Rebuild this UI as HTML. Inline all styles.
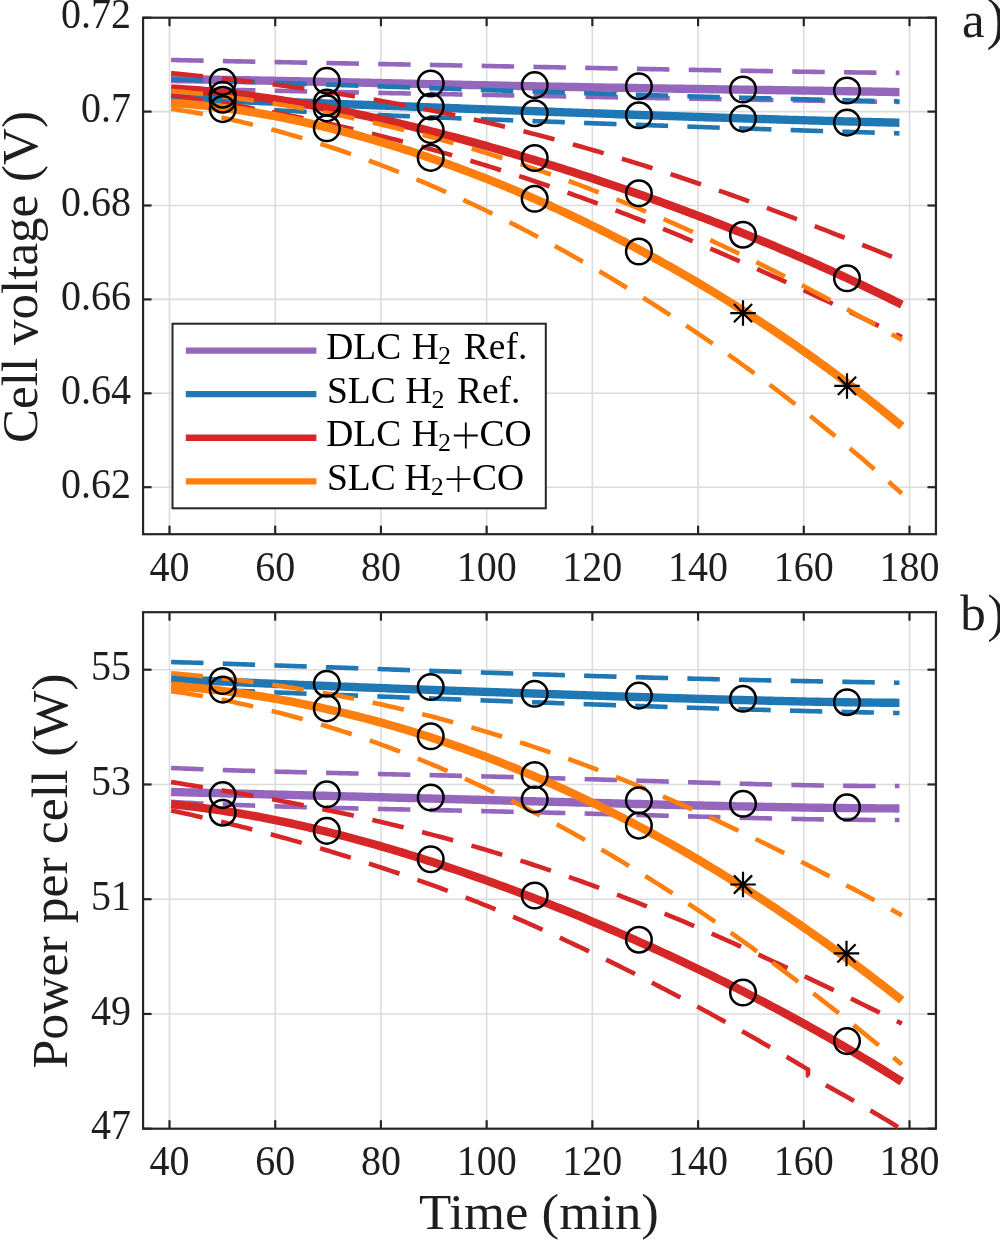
<!DOCTYPE html>
<html><head><meta charset="utf-8"><style>
html,body{margin:0;padding:0;background:#fff;}
svg{display:block;will-change:transform;}
text{font-family:"Liberation Serif",serif;fill:#1e1e1e;}
.tk{font-size:40px;}
.al{font-size:51px;}
.par{font-size:56px;}
.lg{font-size:37.5px;fill:#000;}
.sub{font-size:26px;fill:#000;}
</style></head><body>
<svg width="1000" height="1241" viewBox="0 0 1000 1241">
<rect width="1000" height="1241" fill="#fff"/>
<line x1="169.50" y1="17.7" x2="169.50" y2="534.2" stroke="#dcdcdc" stroke-width="1.6"/>
<line x1="275.21" y1="17.7" x2="275.21" y2="534.2" stroke="#dcdcdc" stroke-width="1.6"/>
<line x1="380.93" y1="17.7" x2="380.93" y2="534.2" stroke="#dcdcdc" stroke-width="1.6"/>
<line x1="486.64" y1="17.7" x2="486.64" y2="534.2" stroke="#dcdcdc" stroke-width="1.6"/>
<line x1="592.36" y1="17.7" x2="592.36" y2="534.2" stroke="#dcdcdc" stroke-width="1.6"/>
<line x1="698.07" y1="17.7" x2="698.07" y2="534.2" stroke="#dcdcdc" stroke-width="1.6"/>
<line x1="803.78" y1="17.7" x2="803.78" y2="534.2" stroke="#dcdcdc" stroke-width="1.6"/>
<line x1="909.50" y1="17.7" x2="909.50" y2="534.2" stroke="#dcdcdc" stroke-width="1.6"/>
<line x1="143.07" y1="17.70" x2="935.93" y2="17.70" stroke="#dcdcdc" stroke-width="1.6"/>
<line x1="143.07" y1="111.60" x2="935.93" y2="111.60" stroke="#dcdcdc" stroke-width="1.6"/>
<line x1="143.07" y1="205.50" x2="935.93" y2="205.50" stroke="#dcdcdc" stroke-width="1.6"/>
<line x1="143.07" y1="299.40" x2="935.93" y2="299.40" stroke="#dcdcdc" stroke-width="1.6"/>
<line x1="143.07" y1="393.30" x2="935.93" y2="393.30" stroke="#dcdcdc" stroke-width="1.6"/>
<line x1="143.07" y1="487.20" x2="935.93" y2="487.20" stroke="#dcdcdc" stroke-width="1.6"/>
<line x1="169.50" y1="612.2" x2="169.50" y2="1128.7" stroke="#dcdcdc" stroke-width="1.6"/>
<line x1="275.21" y1="612.2" x2="275.21" y2="1128.7" stroke="#dcdcdc" stroke-width="1.6"/>
<line x1="380.93" y1="612.2" x2="380.93" y2="1128.7" stroke="#dcdcdc" stroke-width="1.6"/>
<line x1="486.64" y1="612.2" x2="486.64" y2="1128.7" stroke="#dcdcdc" stroke-width="1.6"/>
<line x1="592.36" y1="612.2" x2="592.36" y2="1128.7" stroke="#dcdcdc" stroke-width="1.6"/>
<line x1="698.07" y1="612.2" x2="698.07" y2="1128.7" stroke="#dcdcdc" stroke-width="1.6"/>
<line x1="803.78" y1="612.2" x2="803.78" y2="1128.7" stroke="#dcdcdc" stroke-width="1.6"/>
<line x1="909.50" y1="612.2" x2="909.50" y2="1128.7" stroke="#dcdcdc" stroke-width="1.6"/>
<line x1="143.07" y1="669.70" x2="935.93" y2="669.70" stroke="#dcdcdc" stroke-width="1.6"/>
<line x1="143.07" y1="784.45" x2="935.93" y2="784.45" stroke="#dcdcdc" stroke-width="1.6"/>
<line x1="143.07" y1="899.20" x2="935.93" y2="899.20" stroke="#dcdcdc" stroke-width="1.6"/>
<line x1="143.07" y1="1013.95" x2="935.93" y2="1013.95" stroke="#dcdcdc" stroke-width="1.6"/>
<line x1="143.07" y1="1128.70" x2="935.93" y2="1128.70" stroke="#dcdcdc" stroke-width="1.6"/>
<rect x="143.07" y="17.70" width="792.86" height="516.50" fill="none" stroke="#262626" stroke-width="2.2"/>
<line x1="169.50" y1="534.2" x2="169.50" y2="525.7" stroke="#262626" stroke-width="2.2"/>
<line x1="169.50" y1="17.7" x2="169.50" y2="26.2" stroke="#262626" stroke-width="2.2"/>
<text transform="translate(169.50,580.50) scale(1,1.045)" class="tk" text-anchor="middle">40</text>
<line x1="275.21" y1="534.2" x2="275.21" y2="525.7" stroke="#262626" stroke-width="2.2"/>
<line x1="275.21" y1="17.7" x2="275.21" y2="26.2" stroke="#262626" stroke-width="2.2"/>
<text transform="translate(275.21,580.50) scale(1,1.045)" class="tk" text-anchor="middle">60</text>
<line x1="380.93" y1="534.2" x2="380.93" y2="525.7" stroke="#262626" stroke-width="2.2"/>
<line x1="380.93" y1="17.7" x2="380.93" y2="26.2" stroke="#262626" stroke-width="2.2"/>
<text transform="translate(380.93,580.50) scale(1,1.045)" class="tk" text-anchor="middle">80</text>
<line x1="486.64" y1="534.2" x2="486.64" y2="525.7" stroke="#262626" stroke-width="2.2"/>
<line x1="486.64" y1="17.7" x2="486.64" y2="26.2" stroke="#262626" stroke-width="2.2"/>
<text transform="translate(486.64,580.50) scale(1,1.045)" class="tk" text-anchor="middle">100</text>
<line x1="592.36" y1="534.2" x2="592.36" y2="525.7" stroke="#262626" stroke-width="2.2"/>
<line x1="592.36" y1="17.7" x2="592.36" y2="26.2" stroke="#262626" stroke-width="2.2"/>
<text transform="translate(592.36,580.50) scale(1,1.045)" class="tk" text-anchor="middle">120</text>
<line x1="698.07" y1="534.2" x2="698.07" y2="525.7" stroke="#262626" stroke-width="2.2"/>
<line x1="698.07" y1="17.7" x2="698.07" y2="26.2" stroke="#262626" stroke-width="2.2"/>
<text transform="translate(698.07,580.50) scale(1,1.045)" class="tk" text-anchor="middle">140</text>
<line x1="803.78" y1="534.2" x2="803.78" y2="525.7" stroke="#262626" stroke-width="2.2"/>
<line x1="803.78" y1="17.7" x2="803.78" y2="26.2" stroke="#262626" stroke-width="2.2"/>
<text transform="translate(803.78,580.50) scale(1,1.045)" class="tk" text-anchor="middle">160</text>
<line x1="909.50" y1="534.2" x2="909.50" y2="525.7" stroke="#262626" stroke-width="2.2"/>
<line x1="909.50" y1="17.7" x2="909.50" y2="26.2" stroke="#262626" stroke-width="2.2"/>
<text transform="translate(909.50,580.50) scale(1,1.045)" class="tk" text-anchor="middle">180</text>
<line x1="143.07" y1="17.70" x2="151.57" y2="17.70" stroke="#262626" stroke-width="2.2"/>
<line x1="935.93" y1="17.70" x2="927.43" y2="17.70" stroke="#262626" stroke-width="2.2"/>
<text transform="translate(131.0,28.30) scale(1,1.045)" class="tk" text-anchor="end">0.72</text>
<line x1="143.07" y1="111.60" x2="151.57" y2="111.60" stroke="#262626" stroke-width="2.2"/>
<line x1="935.93" y1="111.60" x2="927.43" y2="111.60" stroke="#262626" stroke-width="2.2"/>
<text transform="translate(131.0,122.20) scale(1,1.045)" class="tk" text-anchor="end">0.7</text>
<line x1="143.07" y1="205.50" x2="151.57" y2="205.50" stroke="#262626" stroke-width="2.2"/>
<line x1="935.93" y1="205.50" x2="927.43" y2="205.50" stroke="#262626" stroke-width="2.2"/>
<text transform="translate(131.0,216.10) scale(1,1.045)" class="tk" text-anchor="end">0.68</text>
<line x1="143.07" y1="299.40" x2="151.57" y2="299.40" stroke="#262626" stroke-width="2.2"/>
<line x1="935.93" y1="299.40" x2="927.43" y2="299.40" stroke="#262626" stroke-width="2.2"/>
<text transform="translate(131.0,310.00) scale(1,1.045)" class="tk" text-anchor="end">0.66</text>
<line x1="143.07" y1="393.30" x2="151.57" y2="393.30" stroke="#262626" stroke-width="2.2"/>
<line x1="935.93" y1="393.30" x2="927.43" y2="393.30" stroke="#262626" stroke-width="2.2"/>
<text transform="translate(131.0,403.90) scale(1,1.045)" class="tk" text-anchor="end">0.64</text>
<line x1="143.07" y1="487.20" x2="151.57" y2="487.20" stroke="#262626" stroke-width="2.2"/>
<line x1="935.93" y1="487.20" x2="927.43" y2="487.20" stroke="#262626" stroke-width="2.2"/>
<text transform="translate(131.0,497.80) scale(1,1.045)" class="tk" text-anchor="end">0.62</text>
<rect x="143.07" y="612.20" width="792.86" height="516.50" fill="none" stroke="#262626" stroke-width="2.2"/>
<line x1="169.50" y1="1128.7" x2="169.50" y2="1120.2" stroke="#262626" stroke-width="2.2"/>
<line x1="169.50" y1="612.2" x2="169.50" y2="620.7" stroke="#262626" stroke-width="2.2"/>
<text transform="translate(169.50,1175.00) scale(1,1.045)" class="tk" text-anchor="middle">40</text>
<line x1="275.21" y1="1128.7" x2="275.21" y2="1120.2" stroke="#262626" stroke-width="2.2"/>
<line x1="275.21" y1="612.2" x2="275.21" y2="620.7" stroke="#262626" stroke-width="2.2"/>
<text transform="translate(275.21,1175.00) scale(1,1.045)" class="tk" text-anchor="middle">60</text>
<line x1="380.93" y1="1128.7" x2="380.93" y2="1120.2" stroke="#262626" stroke-width="2.2"/>
<line x1="380.93" y1="612.2" x2="380.93" y2="620.7" stroke="#262626" stroke-width="2.2"/>
<text transform="translate(380.93,1175.00) scale(1,1.045)" class="tk" text-anchor="middle">80</text>
<line x1="486.64" y1="1128.7" x2="486.64" y2="1120.2" stroke="#262626" stroke-width="2.2"/>
<line x1="486.64" y1="612.2" x2="486.64" y2="620.7" stroke="#262626" stroke-width="2.2"/>
<text transform="translate(486.64,1175.00) scale(1,1.045)" class="tk" text-anchor="middle">100</text>
<line x1="592.36" y1="1128.7" x2="592.36" y2="1120.2" stroke="#262626" stroke-width="2.2"/>
<line x1="592.36" y1="612.2" x2="592.36" y2="620.7" stroke="#262626" stroke-width="2.2"/>
<text transform="translate(592.36,1175.00) scale(1,1.045)" class="tk" text-anchor="middle">120</text>
<line x1="698.07" y1="1128.7" x2="698.07" y2="1120.2" stroke="#262626" stroke-width="2.2"/>
<line x1="698.07" y1="612.2" x2="698.07" y2="620.7" stroke="#262626" stroke-width="2.2"/>
<text transform="translate(698.07,1175.00) scale(1,1.045)" class="tk" text-anchor="middle">140</text>
<line x1="803.78" y1="1128.7" x2="803.78" y2="1120.2" stroke="#262626" stroke-width="2.2"/>
<line x1="803.78" y1="612.2" x2="803.78" y2="620.7" stroke="#262626" stroke-width="2.2"/>
<text transform="translate(803.78,1175.00) scale(1,1.045)" class="tk" text-anchor="middle">160</text>
<line x1="909.50" y1="1128.7" x2="909.50" y2="1120.2" stroke="#262626" stroke-width="2.2"/>
<line x1="909.50" y1="612.2" x2="909.50" y2="620.7" stroke="#262626" stroke-width="2.2"/>
<text transform="translate(909.50,1175.00) scale(1,1.045)" class="tk" text-anchor="middle">180</text>
<line x1="143.07" y1="669.70" x2="151.57" y2="669.70" stroke="#262626" stroke-width="2.2"/>
<line x1="935.93" y1="669.70" x2="927.43" y2="669.70" stroke="#262626" stroke-width="2.2"/>
<text transform="translate(131.0,680.30) scale(1,1.045)" class="tk" text-anchor="end">55</text>
<line x1="143.07" y1="784.45" x2="151.57" y2="784.45" stroke="#262626" stroke-width="2.2"/>
<line x1="935.93" y1="784.45" x2="927.43" y2="784.45" stroke="#262626" stroke-width="2.2"/>
<text transform="translate(131.0,795.05) scale(1,1.045)" class="tk" text-anchor="end">53</text>
<line x1="143.07" y1="899.20" x2="151.57" y2="899.20" stroke="#262626" stroke-width="2.2"/>
<line x1="935.93" y1="899.20" x2="927.43" y2="899.20" stroke="#262626" stroke-width="2.2"/>
<text transform="translate(131.0,909.80) scale(1,1.045)" class="tk" text-anchor="end">51</text>
<line x1="143.07" y1="1013.95" x2="151.57" y2="1013.95" stroke="#262626" stroke-width="2.2"/>
<line x1="935.93" y1="1013.95" x2="927.43" y2="1013.95" stroke="#262626" stroke-width="2.2"/>
<text transform="translate(131.0,1024.55) scale(1,1.045)" class="tk" text-anchor="end">49</text>
<line x1="143.07" y1="1128.70" x2="151.57" y2="1128.70" stroke="#262626" stroke-width="2.2"/>
<line x1="935.93" y1="1128.70" x2="927.43" y2="1128.70" stroke="#262626" stroke-width="2.2"/>
<text transform="translate(131.0,1139.30) scale(1,1.045)" class="tk" text-anchor="end">47</text>
<clipPath id="top"><rect x="143.07" y="17.70" width="792.86" height="516.50"/></clipPath>
<g>
<path d="M171.09,79.10 L174.75,79.15 L178.41,79.19 L182.07,79.24 L185.73,79.29 L189.39,79.34 L193.05,79.39 L196.71,79.45 L200.37,79.50 L204.03,79.56 L207.69,79.61 L211.35,79.67 L215.01,79.73 L218.67,79.79 L222.33,79.85 L225.99,79.91 L229.65,79.98 L233.31,80.04 L236.97,80.10 L240.63,80.17 L244.29,80.24 L247.95,80.30 L251.61,80.37 L255.27,80.44 L258.93,80.51 L262.59,80.58 L266.25,80.65 L269.91,80.72 L273.57,80.79 L277.23,80.87 L280.89,80.94 L284.55,81.01 L288.21,81.09 L291.87,81.16 L295.53,81.24 L299.19,81.31 L302.85,81.39 L306.51,81.46 L310.17,81.54 L313.83,81.62 L317.49,81.70 L321.15,81.77 L324.81,81.85 L328.47,81.93 L332.13,82.01 L335.79,82.09 L339.45,82.17 L343.11,82.24 L346.77,82.32 L350.43,82.40 L354.09,82.48 L357.75,82.56 L361.41,82.64 L365.07,82.72 L368.73,82.80 L372.39,82.88 L376.05,82.96 L379.71,83.04 L383.37,83.12 L387.03,83.20 L390.69,83.28 L394.35,83.36 L398.01,83.44 L401.68,83.52 L405.34,83.60 L409.00,83.68 L412.66,83.76 L416.32,83.84 L419.98,83.92 L423.64,84.00 L427.30,84.08 L430.96,84.16 L434.62,84.24 L438.28,84.32 L441.94,84.40 L445.60,84.47 L449.26,84.55 L452.92,84.63 L456.58,84.71 L460.24,84.78 L463.90,84.86 L467.56,84.94 L471.22,85.01 L474.88,85.09 L478.54,85.16 L482.20,85.24 L485.86,85.31 L489.52,85.39 L493.18,85.46 L496.84,85.54 L500.50,85.61 L504.16,85.68 L507.82,85.76 L511.48,85.83 L515.14,85.90 L518.80,85.97 L522.46,86.04 L526.12,86.12 L529.78,86.19 L533.44,86.26 L537.10,86.33 L540.76,86.40 L544.42,86.46 L548.08,86.53 L551.74,86.60 L555.40,86.67 L559.06,86.74 L562.72,86.80 L566.38,86.87 L570.04,86.94 L573.70,87.00 L577.36,87.07 L581.02,87.13 L584.68,87.20 L588.34,87.26 L592.00,87.33 L595.66,87.39 L599.32,87.45 L602.98,87.51 L606.64,87.58 L610.30,87.64 L613.96,87.70 L617.62,87.76 L621.28,87.82 L624.94,87.88 L628.60,87.94 L632.26,88.00 L635.92,88.06 L639.58,88.12 L643.24,88.18 L646.90,88.24 L650.57,88.29 L654.23,88.35 L657.89,88.41 L661.55,88.47 L665.21,88.52 L668.87,88.58 L672.53,88.63 L676.19,88.69 L679.85,88.75 L683.51,88.80 L687.17,88.85 L690.83,88.91 L694.49,88.96 L698.15,89.02 L701.81,89.07 L705.47,89.13 L709.13,89.18 L712.79,89.23 L716.45,89.29 L720.11,89.34 L723.77,89.39 L727.43,89.44 L731.09,89.50 L734.75,89.55 L738.41,89.60 L742.07,89.65 L745.73,89.71 L749.39,89.76 L753.05,89.81 L756.71,89.86 L760.37,89.92 L764.03,89.97 L767.69,90.02 L771.35,90.07 L775.01,90.12 L778.67,90.18 L782.33,90.23 L785.99,90.28 L789.65,90.34 L793.31,90.39 L796.97,90.44 L800.63,90.49 L804.29,90.55 L807.95,90.60 L811.61,90.66 L815.27,90.71 L818.93,90.76 L822.59,90.82 L826.25,90.87 L829.91,90.93 L833.57,90.99 L837.23,91.04 L840.89,91.10 L844.55,91.16 L848.21,91.21 L851.87,91.27 L855.53,91.33 L859.19,91.39 L862.85,91.45 L866.51,91.51 L870.17,91.57 L873.83,91.63 L877.49,91.69 L881.15,91.76 L884.81,91.82 L888.47,91.89 L892.13,91.95 L895.80,92.02 L899.46,92.08" fill="none" stroke="#9467bd" stroke-width="8.4" stroke-linejoin="round"/>
<path d="M171.09,59.98 L174.75,60.06 L178.41,60.14 L182.07,60.21 L185.73,60.29 L189.39,60.37 L193.05,60.44 L196.71,60.52 L200.37,60.59 L204.03,60.67 L207.69,60.74 L211.35,60.82 L215.01,60.89 L218.67,60.96 L222.33,61.04 L225.99,61.11 L229.65,61.18 L233.31,61.25 L236.97,61.33 L240.63,61.40 L244.29,61.47 L247.95,61.54 L251.61,61.61 L255.27,61.68 L258.93,61.75 L262.59,61.82 L266.25,61.89 L269.91,61.96 L273.57,62.03 L277.23,62.10 L280.89,62.17 L284.55,62.24 L288.21,62.31 L291.87,62.38 L295.53,62.45 L299.19,62.52 L302.85,62.59 L306.51,62.66 L310.17,62.72 L313.83,62.79 L317.49,62.86 L321.15,62.93 L324.81,63.00 L328.47,63.06 L332.13,63.13 L335.79,63.20 L339.45,63.27 L343.11,63.34 L346.77,63.40 L350.43,63.47 L354.09,63.54 L357.75,63.61 L361.41,63.67 L365.07,63.74 L368.73,63.81 L372.39,63.88 L376.05,63.95 L379.71,64.01 L383.37,64.08 L387.03,64.15 L390.69,64.22 L394.35,64.28 L398.01,64.35 L401.68,64.42 L405.34,64.49 L409.00,64.55 L412.66,64.62 L416.32,64.69 L419.98,64.76 L423.64,64.83 L427.30,64.89 L430.96,64.96 L434.62,65.03 L438.28,65.10 L441.94,65.16 L445.60,65.23 L449.26,65.30 L452.92,65.37 L456.58,65.44 L460.24,65.51 L463.90,65.57 L467.56,65.64 L471.22,65.71 L474.88,65.78 L478.54,65.85 L482.20,65.92 L485.86,65.99 L489.52,66.05 L493.18,66.12 L496.84,66.19 L500.50,66.26 L504.16,66.33 L507.82,66.40 L511.48,66.47 L515.14,66.54 L518.80,66.61 L522.46,66.68 L526.12,66.74 L529.78,66.81 L533.44,66.88 L537.10,66.95 L540.76,67.02 L544.42,67.09 L548.08,67.16 L551.74,67.23 L555.40,67.30 L559.06,67.37 L562.72,67.44 L566.38,67.51 L570.04,67.58 L573.70,67.65 L577.36,67.72 L581.02,67.78 L584.68,67.85 L588.34,67.92 L592.00,67.99 L595.66,68.06 L599.32,68.13 L602.98,68.20 L606.64,68.27 L610.30,68.34 L613.96,68.41 L617.62,68.48 L621.28,68.55 L624.94,68.62 L628.60,68.68 L632.26,68.75 L635.92,68.82 L639.58,68.89 L643.24,68.96 L646.90,69.03 L650.57,69.10 L654.23,69.16 L657.89,69.23 L661.55,69.30 L665.21,69.37 L668.87,69.43 L672.53,69.50 L676.19,69.57 L679.85,69.64 L683.51,69.70 L687.17,69.77 L690.83,69.84 L694.49,69.90 L698.15,69.97 L701.81,70.03 L705.47,70.10 L709.13,70.16 L712.79,70.23 L716.45,70.29 L720.11,70.36 L723.77,70.42 L727.43,70.49 L731.09,70.55 L734.75,70.61 L738.41,70.68 L742.07,70.74 L745.73,70.80 L749.39,70.86 L753.05,70.92 L756.71,70.99 L760.37,71.05 L764.03,71.11 L767.69,71.17 L771.35,71.23 L775.01,71.28 L778.67,71.34 L782.33,71.40 L785.99,71.46 L789.65,71.51 L793.31,71.57 L796.97,71.63 L800.63,71.68 L804.29,71.74 L807.95,71.79 L811.61,71.85 L815.27,71.90 L818.93,71.95 L822.59,72.00 L826.25,72.05 L829.91,72.10 L833.57,72.15 L837.23,72.20 L840.89,72.25 L844.55,72.30 L848.21,72.35 L851.87,72.39 L855.53,72.44 L859.19,72.48 L862.85,72.53 L866.51,72.57 L870.17,72.61 L873.83,72.66 L877.49,72.70 L881.15,72.74 L884.81,72.78 L888.47,72.81 L892.13,72.85 L895.80,72.89 L899.46,72.92" fill="none" stroke="#9467bd" stroke-width="4.6" stroke-dasharray="32.501 19.271"/>
<path d="M171.09,88.51 L174.75,88.59 L178.41,88.67 L182.07,88.76 L185.73,88.84 L189.39,88.92 L193.05,89.00 L196.71,89.09 L200.37,89.17 L204.03,89.25 L207.69,89.33 L211.35,89.41 L215.01,89.49 L218.67,89.57 L222.33,89.65 L225.99,89.73 L229.65,89.81 L233.31,89.89 L236.97,89.97 L240.63,90.05 L244.29,90.13 L247.95,90.20 L251.61,90.28 L255.27,90.36 L258.93,90.44 L262.59,90.52 L266.25,90.59 L269.91,90.67 L273.57,90.75 L277.23,90.82 L280.89,90.90 L284.55,90.97 L288.21,91.05 L291.87,91.13 L295.53,91.20 L299.19,91.28 L302.85,91.35 L306.51,91.43 L310.17,91.50 L313.83,91.58 L317.49,91.65 L321.15,91.72 L324.81,91.80 L328.47,91.87 L332.13,91.95 L335.79,92.02 L339.45,92.09 L343.11,92.17 L346.77,92.24 L350.43,92.31 L354.09,92.38 L357.75,92.46 L361.41,92.53 L365.07,92.60 L368.73,92.67 L372.39,92.75 L376.05,92.82 L379.71,92.89 L383.37,92.96 L387.03,93.03 L390.69,93.10 L394.35,93.18 L398.01,93.25 L401.68,93.32 L405.34,93.39 L409.00,93.46 L412.66,93.53 L416.32,93.60 L419.98,93.67 L423.64,93.74 L427.30,93.81 L430.96,93.88 L434.62,93.95 L438.28,94.02 L441.94,94.09 L445.60,94.16 L449.26,94.23 L452.92,94.30 L456.58,94.37 L460.24,94.44 L463.90,94.51 L467.56,94.58 L471.22,94.65 L474.88,94.72 L478.54,94.79 L482.20,94.86 L485.86,94.93 L489.52,95.00 L493.18,95.07 L496.84,95.13 L500.50,95.20 L504.16,95.27 L507.82,95.34 L511.48,95.41 L515.14,95.48 L518.80,95.55 L522.46,95.61 L526.12,95.68 L529.78,95.75 L533.44,95.82 L537.10,95.89 L540.76,95.95 L544.42,96.02 L548.08,96.09 L551.74,96.16 L555.40,96.22 L559.06,96.29 L562.72,96.36 L566.38,96.43 L570.04,96.49 L573.70,96.56 L577.36,96.63 L581.02,96.69 L584.68,96.76 L588.34,96.83 L592.00,96.89 L595.66,96.96 L599.32,97.03 L602.98,97.09 L606.64,97.16 L610.30,97.23 L613.96,97.29 L617.62,97.36 L621.28,97.43 L624.94,97.49 L628.60,97.56 L632.26,97.62 L635.92,97.69 L639.58,97.75 L643.24,97.82 L646.90,97.89 L650.57,97.95 L654.23,98.02 L657.89,98.08 L661.55,98.15 L665.21,98.21 L668.87,98.28 L672.53,98.34 L676.19,98.40 L679.85,98.47 L683.51,98.53 L687.17,98.60 L690.83,98.66 L694.49,98.73 L698.15,98.79 L701.81,98.85 L705.47,98.92 L709.13,98.98 L712.79,99.04 L716.45,99.11 L720.11,99.17 L723.77,99.23 L727.43,99.29 L731.09,99.36 L734.75,99.42 L738.41,99.48 L742.07,99.54 L745.73,99.61 L749.39,99.67 L753.05,99.73 L756.71,99.79 L760.37,99.85 L764.03,99.91 L767.69,99.97 L771.35,100.03 L775.01,100.09 L778.67,100.15 L782.33,100.21 L785.99,100.27 L789.65,100.33 L793.31,100.39 L796.97,100.45 L800.63,100.51 L804.29,100.57 L807.95,100.63 L811.61,100.69 L815.27,100.74 L818.93,100.80 L822.59,100.86 L826.25,100.92 L829.91,100.97 L833.57,101.03 L837.23,101.09 L840.89,101.14 L844.55,101.20 L848.21,101.26 L851.87,101.31 L855.53,101.37 L859.19,101.42 L862.85,101.48 L866.51,101.53 L870.17,101.59 L873.83,101.64 L877.49,101.69 L881.15,101.75 L884.81,101.80 L888.47,101.85 L892.13,101.90 L895.80,101.96 L899.46,102.01" fill="none" stroke="#9467bd" stroke-width="4.6" stroke-dasharray="32.525 19.285"/>
<path d="M171.09,97.95 L174.75,98.07 L178.41,98.20 L182.07,98.33 L185.73,98.46 L189.39,98.59 L193.05,98.71 L196.71,98.84 L200.37,98.97 L204.03,99.10 L207.69,99.23 L211.35,99.36 L215.01,99.49 L218.67,99.62 L222.33,99.75 L225.99,99.88 L229.65,100.01 L233.31,100.14 L236.97,100.27 L240.63,100.40 L244.29,100.53 L247.95,100.66 L251.61,100.79 L255.27,100.92 L258.93,101.06 L262.59,101.19 L266.25,101.32 L269.91,101.45 L273.57,101.58 L277.23,101.71 L280.89,101.85 L284.55,101.98 L288.21,102.11 L291.87,102.24 L295.53,102.38 L299.19,102.51 L302.85,102.64 L306.51,102.78 L310.17,102.91 L313.83,103.04 L317.49,103.18 L321.15,103.31 L324.81,103.44 L328.47,103.58 L332.13,103.71 L335.79,103.85 L339.45,103.98 L343.11,104.12 L346.77,104.25 L350.43,104.38 L354.09,104.52 L357.75,104.65 L361.41,104.79 L365.07,104.92 L368.73,105.06 L372.39,105.19 L376.05,105.33 L379.71,105.46 L383.37,105.60 L387.03,105.73 L390.69,105.87 L394.35,106.00 L398.01,106.14 L401.68,106.28 L405.34,106.41 L409.00,106.55 L412.66,106.68 L416.32,106.82 L419.98,106.95 L423.64,107.09 L427.30,107.22 L430.96,107.36 L434.62,107.50 L438.28,107.63 L441.94,107.77 L445.60,107.90 L449.26,108.04 L452.92,108.17 L456.58,108.31 L460.24,108.45 L463.90,108.58 L467.56,108.72 L471.22,108.85 L474.88,108.99 L478.54,109.12 L482.20,109.26 L485.86,109.39 L489.52,109.53 L493.18,109.66 L496.84,109.80 L500.50,109.93 L504.16,110.07 L507.82,110.20 L511.48,110.34 L515.14,110.47 L518.80,110.61 L522.46,110.74 L526.12,110.88 L529.78,111.01 L533.44,111.15 L537.10,111.28 L540.76,111.41 L544.42,111.55 L548.08,111.68 L551.74,111.81 L555.40,111.95 L559.06,112.08 L562.72,112.21 L566.38,112.35 L570.04,112.48 L573.70,112.61 L577.36,112.74 L581.02,112.88 L584.68,113.01 L588.34,113.14 L592.00,113.27 L595.66,113.40 L599.32,113.53 L602.98,113.66 L606.64,113.79 L610.30,113.92 L613.96,114.05 L617.62,114.18 L621.28,114.31 L624.94,114.44 L628.60,114.57 L632.26,114.70 L635.92,114.83 L639.58,114.96 L643.24,115.08 L646.90,115.21 L650.57,115.34 L654.23,115.46 L657.89,115.59 L661.55,115.72 L665.21,115.84 L668.87,115.97 L672.53,116.09 L676.19,116.21 L679.85,116.34 L683.51,116.46 L687.17,116.59 L690.83,116.71 L694.49,116.83 L698.15,116.95 L701.81,117.07 L705.47,117.19 L709.13,117.31 L712.79,117.43 L716.45,117.55 L720.11,117.67 L723.77,117.79 L727.43,117.91 L731.09,118.03 L734.75,118.14 L738.41,118.26 L742.07,118.38 L745.73,118.49 L749.39,118.61 L753.05,118.72 L756.71,118.83 L760.37,118.95 L764.03,119.06 L767.69,119.17 L771.35,119.28 L775.01,119.39 L778.67,119.50 L782.33,119.61 L785.99,119.72 L789.65,119.83 L793.31,119.94 L796.97,120.04 L800.63,120.15 L804.29,120.25 L807.95,120.36 L811.61,120.46 L815.27,120.56 L818.93,120.67 L822.59,120.77 L826.25,120.87 L829.91,120.97 L833.57,121.07 L837.23,121.17 L840.89,121.26 L844.55,121.36 L848.21,121.46 L851.87,121.55 L855.53,121.65 L859.19,121.74 L862.85,121.83 L866.51,121.93 L870.17,122.02 L873.83,122.11 L877.49,122.20 L881.15,122.28 L884.81,122.37 L888.47,122.46 L892.13,122.54 L895.80,122.63 L899.46,122.71" fill="none" stroke="#1f77b4" stroke-width="8.4" stroke-linejoin="round"/>
<path d="M171.09,79.34 L174.75,79.46 L178.41,79.58 L182.07,79.70 L185.73,79.82 L189.39,79.94 L193.05,80.06 L196.71,80.18 L200.37,80.30 L204.03,80.42 L207.69,80.54 L211.35,80.66 L215.01,80.79 L218.67,80.91 L222.33,81.03 L225.99,81.15 L229.65,81.27 L233.31,81.40 L236.97,81.52 L240.63,81.64 L244.29,81.77 L247.95,81.89 L251.61,82.02 L255.27,82.14 L258.93,82.26 L262.59,82.39 L266.25,82.51 L269.91,82.64 L273.57,82.76 L277.23,82.89 L280.89,83.01 L284.55,83.14 L288.21,83.26 L291.87,83.39 L295.53,83.52 L299.19,83.64 L302.85,83.77 L306.51,83.89 L310.17,84.02 L313.83,84.15 L317.49,84.27 L321.15,84.40 L324.81,84.52 L328.47,84.65 L332.13,84.78 L335.79,84.90 L339.45,85.03 L343.11,85.15 L346.77,85.28 L350.43,85.41 L354.09,85.53 L357.75,85.66 L361.41,85.79 L365.07,85.91 L368.73,86.04 L372.39,86.16 L376.05,86.29 L379.71,86.41 L383.37,86.54 L387.03,86.67 L390.69,86.79 L394.35,86.92 L398.01,87.04 L401.68,87.17 L405.34,87.29 L409.00,87.42 L412.66,87.54 L416.32,87.67 L419.98,87.79 L423.64,87.92 L427.30,88.04 L430.96,88.17 L434.62,88.29 L438.28,88.41 L441.94,88.54 L445.60,88.66 L449.26,88.79 L452.92,88.91 L456.58,89.03 L460.24,89.15 L463.90,89.28 L467.56,89.40 L471.22,89.52 L474.88,89.64 L478.54,89.77 L482.20,89.89 L485.86,90.01 L489.52,90.13 L493.18,90.25 L496.84,90.37 L500.50,90.49 L504.16,90.61 L507.82,90.73 L511.48,90.85 L515.14,90.97 L518.80,91.09 L522.46,91.21 L526.12,91.33 L529.78,91.45 L533.44,91.57 L537.10,91.68 L540.76,91.80 L544.42,91.92 L548.08,92.03 L551.74,92.15 L555.40,92.27 L559.06,92.38 L562.72,92.50 L566.38,92.61 L570.04,92.73 L573.70,92.84 L577.36,92.96 L581.02,93.07 L584.68,93.19 L588.34,93.30 L592.00,93.41 L595.66,93.53 L599.32,93.64 L602.98,93.75 L606.64,93.86 L610.30,93.97 L613.96,94.08 L617.62,94.20 L621.28,94.31 L624.94,94.42 L628.60,94.52 L632.26,94.63 L635.92,94.74 L639.58,94.85 L643.24,94.96 L646.90,95.07 L650.57,95.17 L654.23,95.28 L657.89,95.39 L661.55,95.49 L665.21,95.60 L668.87,95.70 L672.53,95.81 L676.19,95.91 L679.85,96.02 L683.51,96.12 L687.17,96.23 L690.83,96.33 L694.49,96.43 L698.15,96.53 L701.81,96.63 L705.47,96.74 L709.13,96.84 L712.79,96.94 L716.45,97.04 L720.11,97.14 L723.77,97.24 L727.43,97.33 L731.09,97.43 L734.75,97.53 L738.41,97.63 L742.07,97.73 L745.73,97.82 L749.39,97.92 L753.05,98.01 L756.71,98.11 L760.37,98.20 L764.03,98.30 L767.69,98.39 L771.35,98.49 L775.01,98.58 L778.67,98.67 L782.33,98.76 L785.99,98.86 L789.65,98.95 L793.31,99.04 L796.97,99.13 L800.63,99.22 L804.29,99.31 L807.95,99.40 L811.61,99.49 L815.27,99.58 L818.93,99.66 L822.59,99.75 L826.25,99.84 L829.91,99.93 L833.57,100.01 L837.23,100.10 L840.89,100.18 L844.55,100.27 L848.21,100.35 L851.87,100.44 L855.53,100.52 L859.19,100.60 L862.85,100.69 L866.51,100.77 L870.17,100.85 L873.83,100.93 L877.49,101.01 L881.15,101.10 L884.81,101.18 L888.47,101.26 L892.13,101.33 L895.80,101.41 L899.46,101.49" fill="none" stroke="#1f77b4" stroke-width="4.6" stroke-dasharray="32.429 19.228"/>
<path d="M171.09,104.13 L174.75,104.37 L178.41,104.61 L182.07,104.84 L185.73,105.08 L189.39,105.31 L193.05,105.54 L196.71,105.77 L200.37,106.00 L204.03,106.22 L207.69,106.44 L211.35,106.66 L215.01,106.88 L218.67,107.10 L222.33,107.31 L225.99,107.53 L229.65,107.74 L233.31,107.94 L236.97,108.15 L240.63,108.36 L244.29,108.56 L247.95,108.76 L251.61,108.96 L255.27,109.16 L258.93,109.35 L262.59,109.55 L266.25,109.74 L269.91,109.93 L273.57,110.12 L277.23,110.31 L280.89,110.50 L284.55,110.69 L288.21,110.87 L291.87,111.05 L295.53,111.23 L299.19,111.41 L302.85,111.59 L306.51,111.77 L310.17,111.95 L313.83,112.12 L317.49,112.29 L321.15,112.47 L324.81,112.64 L328.47,112.81 L332.13,112.98 L335.79,113.15 L339.45,113.31 L343.11,113.48 L346.77,113.64 L350.43,113.81 L354.09,113.97 L357.75,114.13 L361.41,114.29 L365.07,114.45 L368.73,114.61 L372.39,114.77 L376.05,114.93 L379.71,115.08 L383.37,115.24 L387.03,115.39 L390.69,115.55 L394.35,115.70 L398.01,115.85 L401.68,116.00 L405.34,116.15 L409.00,116.30 L412.66,116.45 L416.32,116.60 L419.98,116.75 L423.64,116.90 L427.30,117.04 L430.96,117.19 L434.62,117.34 L438.28,117.48 L441.94,117.63 L445.60,117.77 L449.26,117.91 L452.92,118.06 L456.58,118.20 L460.24,118.34 L463.90,118.48 L467.56,118.62 L471.22,118.76 L474.88,118.90 L478.54,119.04 L482.20,119.18 L485.86,119.32 L489.52,119.46 L493.18,119.60 L496.84,119.73 L500.50,119.87 L504.16,120.01 L507.82,120.14 L511.48,120.28 L515.14,120.42 L518.80,120.55 L522.46,120.69 L526.12,120.82 L529.78,120.96 L533.44,121.09 L537.10,121.23 L540.76,121.36 L544.42,121.49 L548.08,121.63 L551.74,121.76 L555.40,121.89 L559.06,122.03 L562.72,122.16 L566.38,122.29 L570.04,122.42 L573.70,122.55 L577.36,122.69 L581.02,122.82 L584.68,122.95 L588.34,123.08 L592.00,123.21 L595.66,123.34 L599.32,123.47 L602.98,123.60 L606.64,123.73 L610.30,123.86 L613.96,123.99 L617.62,124.12 L621.28,124.25 L624.94,124.38 L628.60,124.51 L632.26,124.64 L635.92,124.77 L639.58,124.90 L643.24,125.03 L646.90,125.15 L650.57,125.28 L654.23,125.41 L657.89,125.54 L661.55,125.67 L665.21,125.79 L668.87,125.92 L672.53,126.05 L676.19,126.18 L679.85,126.30 L683.51,126.43 L687.17,126.56 L690.83,126.68 L694.49,126.81 L698.15,126.94 L701.81,127.06 L705.47,127.19 L709.13,127.31 L712.79,127.44 L716.45,127.56 L720.11,127.69 L723.77,127.81 L727.43,127.94 L731.09,128.06 L734.75,128.19 L738.41,128.31 L742.07,128.43 L745.73,128.56 L749.39,128.68 L753.05,128.80 L756.71,128.92 L760.37,129.05 L764.03,129.17 L767.69,129.29 L771.35,129.41 L775.01,129.53 L778.67,129.65 L782.33,129.77 L785.99,129.89 L789.65,130.01 L793.31,130.13 L796.97,130.25 L800.63,130.37 L804.29,130.49 L807.95,130.60 L811.61,130.72 L815.27,130.84 L818.93,130.95 L822.59,131.07 L826.25,131.18 L829.91,131.30 L833.57,131.41 L837.23,131.52 L840.89,131.64 L844.55,131.75 L848.21,131.86 L851.87,131.97 L855.53,132.08 L859.19,132.19 L862.85,132.30 L866.51,132.41 L870.17,132.52 L873.83,132.63 L877.49,132.73 L881.15,132.84 L884.81,132.94 L888.47,133.05 L892.13,133.15 L895.80,133.25 L899.46,133.36" fill="none" stroke="#1f77b4" stroke-width="4.6" stroke-dasharray="32.442 19.236"/>
<path d="M171.09,88.48 L174.76,88.69 L178.43,88.90 L182.10,89.14 L185.77,89.38 L189.45,89.64 L193.12,89.92 L196.79,90.20 L200.46,90.50 L204.13,90.82 L207.81,91.14 L211.48,91.49 L215.15,91.84 L218.82,92.20 L222.50,92.58 L226.17,92.97 L229.84,93.38 L233.51,93.79 L237.18,94.22 L240.86,94.66 L244.53,95.11 L248.20,95.58 L251.87,96.05 L255.54,96.54 L259.22,97.04 L262.89,97.55 L266.56,98.07 L270.23,98.60 L273.90,99.14 L277.58,99.70 L281.25,100.26 L284.92,100.84 L288.59,101.42 L292.27,102.02 L295.94,102.63 L299.61,103.24 L303.28,103.87 L306.95,104.51 L310.63,105.15 L314.30,105.81 L317.97,106.47 L321.64,107.15 L325.31,107.84 L328.99,108.53 L332.66,109.23 L336.33,109.95 L340.00,110.67 L343.67,111.40 L347.35,112.14 L351.02,112.89 L354.69,113.65 L358.36,114.41 L362.03,115.19 L365.71,115.97 L369.38,116.77 L373.05,117.57 L376.72,118.38 L380.40,119.19 L384.07,120.02 L387.74,120.85 L391.41,121.69 L395.08,122.54 L398.76,123.40 L402.43,124.26 L406.10,125.14 L409.77,126.02 L413.44,126.90 L417.12,127.80 L420.79,128.70 L424.46,129.61 L428.13,130.53 L431.80,131.46 L435.48,132.39 L439.15,133.33 L442.82,134.28 L446.49,135.23 L450.17,136.19 L453.84,137.16 L457.51,138.13 L461.18,139.11 L464.85,140.10 L468.53,141.10 L472.20,142.10 L475.87,143.11 L479.54,144.12 L483.21,145.15 L486.89,146.17 L490.56,147.21 L494.23,148.25 L497.90,149.30 L501.57,150.35 L505.25,151.41 L508.92,152.48 L512.59,153.56 L516.26,154.64 L519.94,155.72 L523.61,156.82 L527.28,157.91 L530.95,159.02 L534.62,160.13 L538.30,161.25 L541.97,162.37 L545.64,163.50 L549.31,164.64 L552.98,165.78 L556.66,166.93 L560.33,168.08 L564.00,169.24 L567.67,170.41 L571.34,171.58 L575.02,172.76 L578.69,173.95 L582.36,175.14 L586.03,176.33 L589.71,177.54 L593.38,178.74 L597.05,179.96 L600.72,181.18 L604.39,182.41 L608.07,183.64 L611.74,184.88 L615.41,186.12 L619.08,187.38 L622.75,188.63 L626.43,189.90 L630.10,191.17 L633.77,192.44 L637.44,193.72 L641.11,195.01 L644.79,196.31 L648.46,197.61 L652.13,198.91 L655.80,200.22 L659.48,201.54 L663.15,202.87 L666.82,204.20 L670.49,205.54 L674.16,206.88 L677.84,208.23 L681.51,209.59 L685.18,210.95 L688.85,212.32 L692.52,213.70 L696.20,215.08 L699.87,216.47 L703.54,217.87 L707.21,219.27 L710.88,220.68 L714.56,222.10 L718.23,223.52 L721.90,224.95 L725.57,226.39 L729.25,227.83 L732.92,229.28 L736.59,230.74 L740.26,232.20 L743.93,233.67 L747.61,235.15 L751.28,236.64 L754.95,238.13 L758.62,239.63 L762.29,241.14 L765.97,242.66 L769.64,244.18 L773.31,245.71 L776.98,247.25 L780.65,248.79 L784.33,250.35 L788.00,251.91 L791.67,253.48 L795.34,255.06 L799.01,256.64 L802.69,258.24 L806.36,259.84 L810.03,261.45 L813.70,263.07 L817.38,264.70 L821.05,266.33 L824.72,267.98 L828.39,269.63 L832.06,271.29 L835.74,272.96 L839.41,274.64 L843.08,276.33 L846.75,278.03 L850.42,279.73 L854.10,281.45 L857.77,283.17 L861.44,284.91 L865.11,286.65 L868.78,288.41 L872.46,290.17 L876.13,291.95 L879.80,293.73 L883.47,295.52 L887.15,297.33 L890.82,299.14 L894.49,300.97 L898.16,302.80 L901.83,304.65" fill="none" stroke="#d62728" stroke-width="8.4" stroke-linejoin="round"/>
<path d="M171.09,73.11 L174.76,73.47 L178.43,73.83 L182.10,74.19 L185.77,74.56 L189.45,74.93 L193.12,75.31 L196.79,75.69 L200.46,76.07 L204.13,76.45 L207.81,76.84 L211.48,77.24 L215.15,77.63 L218.82,78.03 L222.50,78.44 L226.17,78.85 L229.84,79.26 L233.51,79.68 L237.18,80.11 L240.86,80.53 L244.53,80.96 L248.20,81.40 L251.87,81.84 L255.54,82.29 L259.22,82.74 L262.89,83.19 L266.56,83.66 L270.23,84.12 L273.90,84.59 L277.58,85.07 L281.25,85.55 L284.92,86.04 L288.59,86.53 L292.27,87.03 L295.94,87.53 L299.61,88.04 L303.28,88.55 L306.95,89.07 L310.63,89.60 L314.30,90.13 L317.97,90.67 L321.64,91.21 L325.31,91.76 L328.99,92.32 L332.66,92.88 L336.33,93.45 L340.00,94.02 L343.67,94.60 L347.35,95.19 L351.02,95.78 L354.69,96.38 L358.36,96.98 L362.03,97.59 L365.71,98.21 L369.38,98.84 L373.05,99.47 L376.72,100.10 L380.40,100.75 L384.07,101.40 L387.74,102.06 L391.41,102.72 L395.08,103.39 L398.76,104.07 L402.43,104.75 L406.10,105.45 L409.77,106.14 L413.44,106.85 L417.12,107.56 L420.79,108.28 L424.46,109.01 L428.13,109.74 L431.80,110.48 L435.48,111.23 L439.15,111.98 L442.82,112.74 L446.49,113.51 L450.17,114.29 L453.84,115.07 L457.51,115.86 L461.18,116.66 L464.85,117.46 L468.53,118.27 L472.20,119.09 L475.87,119.92 L479.54,120.75 L483.21,121.59 L486.89,122.44 L490.56,123.30 L494.23,124.16 L497.90,125.03 L501.57,125.91 L505.25,126.79 L508.92,127.68 L512.59,128.58 L516.26,129.49 L519.94,130.40 L523.61,131.33 L527.28,132.25 L530.95,133.19 L534.62,134.13 L538.30,135.08 L541.97,136.04 L545.64,137.01 L549.31,137.98 L552.98,138.96 L556.66,139.95 L560.33,140.94 L564.00,141.94 L567.67,142.95 L571.34,143.97 L575.02,144.99 L578.69,146.02 L582.36,147.06 L586.03,148.11 L589.71,149.16 L593.38,150.22 L597.05,151.29 L600.72,152.36 L604.39,153.44 L608.07,154.53 L611.74,155.63 L615.41,156.73 L619.08,157.84 L622.75,158.95 L626.43,160.08 L630.10,161.21 L633.77,162.34 L637.44,163.49 L641.11,164.64 L644.79,165.80 L648.46,166.96 L652.13,168.13 L655.80,169.31 L659.48,170.49 L663.15,171.69 L666.82,172.88 L670.49,174.09 L674.16,175.30 L677.84,176.52 L681.51,177.74 L685.18,178.97 L688.85,180.21 L692.52,181.45 L696.20,182.70 L699.87,183.95 L703.54,185.22 L707.21,186.48 L710.88,187.76 L714.56,189.04 L718.23,190.32 L721.90,191.62 L725.57,192.91 L729.25,194.22 L732.92,195.53 L736.59,196.84 L740.26,198.16 L743.93,199.49 L747.61,200.82 L751.28,202.16 L754.95,203.50 L758.62,204.85 L762.29,206.21 L765.97,207.56 L769.64,208.93 L773.31,210.30 L776.98,211.67 L780.65,213.05 L784.33,214.44 L788.00,215.82 L791.67,217.22 L795.34,218.62 L799.01,220.02 L802.69,221.43 L806.36,222.84 L810.03,224.26 L813.70,225.68 L817.38,227.11 L821.05,228.53 L824.72,229.97 L828.39,231.41 L832.06,232.85 L835.74,234.29 L839.41,235.74 L843.08,237.20 L846.75,238.65 L850.42,240.11 L854.10,241.58 L857.77,243.05 L861.44,244.52 L865.11,245.99 L868.78,247.47 L872.46,248.95 L876.13,250.43 L879.80,251.92 L883.47,253.40 L887.15,254.90 L890.82,256.39 L894.49,257.89 L898.16,259.38 L901.83,260.89" fill="none" stroke="#d62728" stroke-width="4.6" stroke-dasharray="32.063 19.011"/>
<path d="M171.09,95.26 L174.76,95.78 L178.43,96.31 L182.10,96.84 L185.77,97.38 L189.45,97.93 L193.12,98.48 L196.79,99.04 L200.46,99.61 L204.13,100.18 L207.81,100.76 L211.48,101.35 L215.15,101.94 L218.82,102.54 L222.50,103.14 L226.17,103.76 L229.84,104.37 L233.51,105.00 L237.18,105.63 L240.86,106.27 L244.53,106.92 L248.20,107.57 L251.87,108.23 L255.54,108.90 L259.22,109.57 L262.89,110.25 L266.56,110.94 L270.23,111.63 L273.90,112.34 L277.58,113.04 L281.25,113.76 L284.92,114.48 L288.59,115.21 L292.27,115.95 L295.94,116.70 L299.61,117.45 L303.28,118.21 L306.95,118.97 L310.63,119.75 L314.30,120.53 L317.97,121.32 L321.64,122.11 L325.31,122.92 L328.99,123.73 L332.66,124.54 L336.33,125.37 L340.00,126.20 L343.67,127.04 L347.35,127.89 L351.02,128.75 L354.69,129.61 L358.36,130.48 L362.03,131.36 L365.71,132.24 L369.38,133.14 L373.05,134.04 L376.72,134.94 L380.40,135.86 L384.07,136.78 L387.74,137.71 L391.41,138.65 L395.08,139.60 L398.76,140.55 L402.43,141.51 L406.10,142.48 L409.77,143.46 L413.44,144.44 L417.12,145.44 L420.79,146.44 L424.46,147.44 L428.13,148.46 L431.80,149.48 L435.48,150.51 L439.15,151.55 L442.82,152.60 L446.49,153.65 L450.17,154.71 L453.84,155.78 L457.51,156.85 L461.18,157.94 L464.85,159.03 L468.53,160.13 L472.20,161.24 L475.87,162.35 L479.54,163.47 L483.21,164.60 L486.89,165.74 L490.56,166.88 L494.23,168.04 L497.90,169.20 L501.57,170.36 L505.25,171.54 L508.92,172.72 L512.59,173.91 L516.26,175.11 L519.94,176.32 L523.61,177.53 L527.28,178.75 L530.95,179.98 L534.62,181.21 L538.30,182.46 L541.97,183.71 L545.64,184.96 L549.31,186.23 L552.98,187.50 L556.66,188.78 L560.33,190.07 L564.00,191.36 L567.67,192.66 L571.34,193.97 L575.02,195.29 L578.69,196.61 L582.36,197.94 L586.03,199.28 L589.71,200.63 L593.38,201.98 L597.05,203.34 L600.72,204.70 L604.39,206.08 L608.07,207.46 L611.74,208.84 L615.41,210.24 L619.08,211.64 L622.75,213.05 L626.43,214.46 L630.10,215.88 L633.77,217.31 L637.44,218.75 L641.11,220.19 L644.79,221.64 L648.46,223.10 L652.13,224.56 L655.80,226.03 L659.48,227.50 L663.15,228.99 L666.82,230.47 L670.49,231.97 L674.16,233.47 L677.84,234.98 L681.51,236.49 L685.18,238.01 L688.85,239.54 L692.52,241.07 L696.20,242.61 L699.87,244.16 L703.54,245.71 L707.21,247.27 L710.88,248.83 L714.56,250.40 L718.23,251.98 L721.90,253.56 L725.57,255.15 L729.25,256.74 L732.92,258.34 L736.59,259.94 L740.26,261.55 L743.93,263.17 L747.61,264.79 L751.28,266.42 L754.95,268.05 L758.62,269.69 L762.29,271.33 L765.97,272.98 L769.64,274.63 L773.31,276.29 L776.98,277.95 L780.65,279.62 L784.33,281.30 L788.00,282.98 L791.67,284.66 L795.34,286.35 L799.01,288.04 L802.69,289.74 L806.36,291.44 L810.03,293.15 L813.70,294.86 L817.38,296.58 L821.05,298.30 L824.72,300.03 L828.39,301.76 L832.06,303.49 L835.74,305.23 L839.41,306.97 L843.08,308.72 L846.75,310.47 L850.42,312.22 L854.10,313.98 L857.77,315.74 L861.44,317.51 L865.11,319.27 L868.78,321.05 L872.46,322.82 L876.13,324.60 L879.80,326.39 L883.47,328.17 L887.15,329.96 L890.82,331.75 L894.49,333.55 L898.16,335.35 L901.83,337.15" fill="none" stroke="#d62728" stroke-width="4.6" stroke-dasharray="32.090 19.027"/>
<path d="M171.09,102.85 L174.76,103.10 L178.43,103.36 L182.10,103.64 L185.77,103.93 L189.45,104.25 L193.12,104.58 L196.79,104.93 L200.46,105.29 L204.13,105.68 L207.81,106.07 L211.48,106.49 L215.15,106.92 L218.82,107.37 L222.50,107.83 L226.17,108.32 L229.84,108.81 L233.51,109.33 L237.18,109.85 L240.86,110.40 L244.53,110.96 L248.20,111.53 L251.87,112.13 L255.54,112.73 L259.22,113.35 L262.89,113.99 L266.56,114.64 L270.23,115.31 L273.90,115.99 L277.58,116.69 L281.25,117.40 L284.92,118.13 L288.59,118.87 L292.27,119.63 L295.94,120.40 L299.61,121.18 L303.28,121.98 L306.95,122.80 L310.63,123.63 L314.30,124.47 L317.97,125.32 L321.64,126.19 L325.31,127.08 L328.99,127.98 L332.66,128.89 L336.33,129.81 L340.00,130.75 L343.67,131.71 L347.35,132.67 L351.02,133.65 L354.69,134.65 L358.36,135.65 L362.03,136.67 L365.71,137.71 L369.38,138.75 L373.05,139.81 L376.72,140.88 L380.40,141.97 L384.07,143.07 L387.74,144.18 L391.41,145.31 L395.08,146.44 L398.76,147.59 L402.43,148.76 L406.10,149.93 L409.77,151.12 L413.44,152.32 L417.12,153.54 L420.79,154.76 L424.46,156.00 L428.13,157.25 L431.80,158.52 L435.48,159.79 L439.15,161.08 L442.82,162.38 L446.49,163.70 L450.17,165.02 L453.84,166.36 L457.51,167.71 L461.18,169.08 L464.85,170.45 L468.53,171.84 L472.20,173.24 L475.87,174.65 L479.54,176.07 L483.21,177.51 L486.89,178.96 L490.56,180.42 L494.23,181.89 L497.90,183.38 L501.57,184.87 L505.25,186.38 L508.92,187.90 L512.59,189.44 L516.26,190.98 L519.94,192.54 L523.61,194.11 L527.28,195.69 L530.95,197.29 L534.62,198.89 L538.30,200.51 L541.97,202.14 L545.64,203.78 L549.31,205.44 L552.98,207.10 L556.66,208.78 L560.33,210.47 L564.00,212.17 L567.67,213.89 L571.34,215.61 L575.02,217.35 L578.69,219.11 L582.36,220.87 L586.03,222.64 L589.71,224.43 L593.38,226.23 L597.05,228.05 L600.72,229.87 L604.39,231.71 L608.07,233.56 L611.74,235.42 L615.41,237.29 L619.08,239.18 L622.75,241.08 L626.43,242.99 L630.10,244.92 L633.77,246.86 L637.44,248.80 L641.11,250.77 L644.79,252.74 L648.46,254.73 L652.13,256.73 L655.80,258.74 L659.48,260.77 L663.15,262.81 L666.82,264.86 L670.49,266.93 L674.16,269.01 L677.84,271.10 L681.51,273.20 L685.18,275.32 L688.85,277.45 L692.52,279.60 L696.20,281.75 L699.87,283.93 L703.54,286.11 L707.21,288.31 L710.88,290.52 L714.56,292.75 L718.23,294.99 L721.90,297.24 L725.57,299.51 L729.25,301.79 L732.92,304.08 L736.59,306.39 L740.26,308.71 L743.93,311.05 L747.61,313.40 L751.28,315.77 L754.95,318.15 L758.62,320.54 L762.29,322.95 L765.97,325.38 L769.64,327.82 L773.31,330.27 L776.98,332.74 L780.65,335.22 L784.33,337.72 L788.00,340.23 L791.67,342.76 L795.34,345.31 L799.01,347.87 L802.69,350.44 L806.36,353.03 L810.03,355.64 L813.70,358.26 L817.38,360.90 L821.05,363.56 L824.72,366.23 L828.39,368.91 L832.06,371.62 L835.74,374.33 L839.41,377.07 L843.08,379.82 L846.75,382.59 L850.42,385.38 L854.10,388.18 L857.77,391.00 L861.44,393.84 L865.11,396.69 L868.78,399.56 L872.46,402.45 L876.13,405.36 L879.80,408.28 L883.47,411.23 L887.15,414.19 L890.82,417.16 L894.49,420.16 L898.16,423.18 L901.83,426.21" fill="none" stroke="#ff7f0e" stroke-width="8.4" stroke-linejoin="round"/>
<path d="M171.09,90.86 L174.76,91.20 L178.43,91.54 L182.10,91.89 L185.77,92.25 L189.45,92.62 L193.12,93.00 L196.79,93.39 L200.46,93.79 L204.13,94.19 L207.81,94.60 L211.48,95.03 L215.15,95.46 L218.82,95.90 L222.50,96.34 L226.17,96.80 L229.84,97.27 L233.51,97.74 L237.18,98.23 L240.86,98.72 L244.53,99.22 L248.20,99.74 L251.87,100.26 L255.54,100.79 L259.22,101.32 L262.89,101.87 L266.56,102.43 L270.23,103.00 L273.90,103.57 L277.58,104.16 L281.25,104.75 L284.92,105.35 L288.59,105.97 L292.27,106.59 L295.94,107.22 L299.61,107.86 L303.28,108.51 L306.95,109.17 L310.63,109.84 L314.30,110.51 L317.97,111.20 L321.64,111.90 L325.31,112.61 L328.99,113.32 L332.66,114.05 L336.33,114.78 L340.00,115.53 L343.67,116.28 L347.35,117.05 L351.02,117.82 L354.69,118.60 L358.36,119.39 L362.03,120.20 L365.71,121.01 L369.38,121.83 L373.05,122.66 L376.72,123.50 L380.40,124.35 L384.07,125.21 L387.74,126.08 L391.41,126.96 L395.08,127.85 L398.76,128.75 L402.43,129.66 L406.10,130.58 L409.77,131.50 L413.44,132.44 L417.12,133.39 L420.79,134.35 L424.46,135.31 L428.13,136.29 L431.80,137.28 L435.48,138.27 L439.15,139.28 L442.82,140.30 L446.49,141.32 L450.17,142.36 L453.84,143.40 L457.51,144.46 L461.18,145.52 L464.85,146.59 L468.53,147.68 L472.20,148.77 L475.87,149.88 L479.54,150.99 L483.21,152.11 L486.89,153.25 L490.56,154.39 L494.23,155.54 L497.90,156.70 L501.57,157.87 L505.25,159.06 L508.92,160.25 L512.59,161.45 L516.26,162.66 L519.94,163.88 L523.61,165.11 L527.28,166.35 L530.95,167.60 L534.62,168.86 L538.30,170.13 L541.97,171.41 L545.64,172.69 L549.31,173.99 L552.98,175.30 L556.66,176.61 L560.33,177.94 L564.00,179.28 L567.67,180.62 L571.34,181.98 L575.02,183.34 L578.69,184.72 L582.36,186.10 L586.03,187.49 L589.71,188.90 L593.38,190.31 L597.05,191.73 L600.72,193.16 L604.39,194.60 L608.07,196.05 L611.74,197.51 L615.41,198.98 L619.08,200.45 L622.75,201.94 L626.43,203.44 L630.10,204.94 L633.77,206.46 L637.44,207.98 L641.11,209.51 L644.79,211.06 L648.46,212.61 L652.13,214.17 L655.80,215.74 L659.48,217.32 L663.15,218.90 L666.82,220.50 L670.49,222.11 L674.16,223.72 L677.84,225.34 L681.51,226.98 L685.18,228.62 L688.85,230.27 L692.52,231.93 L696.20,233.60 L699.87,235.27 L703.54,236.96 L707.21,238.65 L710.88,240.35 L714.56,242.07 L718.23,243.79 L721.90,245.51 L725.57,247.25 L729.25,249.00 L732.92,250.75 L736.59,252.51 L740.26,254.28 L743.93,256.06 L747.61,257.85 L751.28,259.65 L754.95,261.45 L758.62,263.26 L762.29,265.09 L765.97,266.91 L769.64,268.75 L773.31,270.60 L776.98,272.45 L780.65,274.31 L784.33,276.18 L788.00,278.06 L791.67,279.94 L795.34,281.84 L799.01,283.74 L802.69,285.64 L806.36,287.56 L810.03,289.48 L813.70,291.42 L817.38,293.35 L821.05,295.30 L824.72,297.25 L828.39,299.22 L832.06,301.19 L835.74,303.16 L839.41,305.14 L843.08,307.14 L846.75,309.13 L850.42,311.14 L854.10,313.15 L857.77,315.17 L861.44,317.20 L865.11,319.23 L868.78,321.27 L872.46,323.32 L876.13,325.37 L879.80,327.43 L883.47,329.50 L887.15,331.57 L890.82,333.66 L894.49,335.74 L898.16,337.84 L901.83,339.94" fill="none" stroke="#ff7f0e" stroke-width="4.6" stroke-dasharray="32.089 19.027"/>
<path d="M171.09,108.79 L174.76,109.32 L178.43,109.87 L182.10,110.44 L185.77,111.02 L189.45,111.62 L193.12,112.24 L196.79,112.88 L200.46,113.53 L204.13,114.20 L207.81,114.89 L211.48,115.59 L215.15,116.32 L218.82,117.05 L222.50,117.81 L226.17,118.58 L229.84,119.37 L233.51,120.17 L237.18,121.00 L240.86,121.83 L244.53,122.69 L248.20,123.56 L251.87,124.44 L255.54,125.34 L259.22,126.26 L262.89,127.19 L266.56,128.14 L270.23,129.11 L273.90,130.08 L277.58,131.08 L281.25,132.09 L284.92,133.12 L288.59,134.16 L292.27,135.21 L295.94,136.28 L299.61,137.37 L303.28,138.47 L306.95,139.58 L310.63,140.71 L314.30,141.86 L317.97,143.02 L321.64,144.19 L325.31,145.38 L328.99,146.58 L332.66,147.79 L336.33,149.02 L340.00,150.27 L343.67,151.53 L347.35,152.80 L351.02,154.09 L354.69,155.39 L358.36,156.70 L362.03,158.03 L365.71,159.37 L369.38,160.73 L373.05,162.10 L376.72,163.48 L380.40,164.88 L384.07,166.29 L387.74,167.71 L391.41,169.15 L395.08,170.60 L398.76,172.06 L402.43,173.53 L406.10,175.02 L409.77,176.53 L413.44,178.04 L417.12,179.57 L420.79,181.11 L424.46,182.67 L428.13,184.23 L431.80,185.81 L435.48,187.41 L439.15,189.01 L442.82,190.63 L446.49,192.26 L450.17,193.91 L453.84,195.57 L457.51,197.23 L461.18,198.92 L464.85,200.61 L468.53,202.32 L472.20,204.04 L475.87,205.77 L479.54,207.52 L483.21,209.27 L486.89,211.04 L490.56,212.83 L494.23,214.62 L497.90,216.43 L501.57,218.25 L505.25,220.08 L508.92,221.92 L512.59,223.78 L516.26,225.65 L519.94,227.53 L523.61,229.42 L527.28,231.33 L530.95,233.25 L534.62,235.18 L538.30,237.12 L541.97,239.07 L545.64,241.04 L549.31,243.02 L552.98,245.01 L556.66,247.02 L560.33,249.03 L564.00,251.06 L567.67,253.10 L571.34,255.15 L575.02,257.22 L578.69,259.30 L582.36,261.38 L586.03,263.49 L589.71,265.60 L593.38,267.73 L597.05,269.87 L600.72,272.02 L604.39,274.18 L608.07,276.36 L611.74,278.54 L615.41,280.74 L619.08,282.96 L622.75,285.18 L626.43,287.42 L630.10,289.67 L633.77,291.93 L637.44,294.21 L641.11,296.49 L644.79,298.79 L648.46,301.11 L652.13,303.43 L655.80,305.77 L659.48,308.12 L663.15,310.48 L666.82,312.86 L670.49,315.25 L674.16,317.65 L677.84,320.06 L681.51,322.49 L685.18,324.93 L688.85,327.38 L692.52,329.84 L696.20,332.32 L699.87,334.81 L703.54,337.32 L707.21,339.84 L710.88,342.37 L714.56,344.91 L718.23,347.47 L721.90,350.04 L725.57,352.62 L729.25,355.22 L732.92,357.83 L736.59,360.45 L740.26,363.09 L743.93,365.74 L747.61,368.41 L751.28,371.09 L754.95,373.78 L758.62,376.49 L762.29,379.21 L765.97,381.94 L769.64,384.69 L773.31,387.45 L776.98,390.22 L780.65,393.01 L784.33,395.82 L788.00,398.64 L791.67,401.47 L795.34,404.32 L799.01,407.18 L802.69,410.06 L806.36,412.95 L810.03,415.85 L813.70,418.77 L817.38,421.71 L821.05,424.66 L824.72,427.63 L828.39,430.61 L832.06,433.60 L835.74,436.61 L839.41,439.64 L843.08,442.68 L846.75,445.74 L850.42,448.81 L854.10,451.90 L857.77,455.00 L861.44,458.12 L865.11,461.26 L868.78,464.41 L872.46,467.58 L876.13,470.76 L879.80,473.97 L883.47,477.18 L887.15,480.42 L890.82,483.67 L894.49,486.93 L898.16,490.22 L901.83,493.52" fill="none" stroke="#ff7f0e" stroke-width="4.6" stroke-dasharray="32.144 19.059"/>
<circle cx="222.7" cy="81.9" r="12.8" fill="none" stroke="#000" stroke-width="2.5"/>
<circle cx="326.8" cy="80.9" r="12.8" fill="none" stroke="#000" stroke-width="2.5"/>
<circle cx="430.7" cy="83.5" r="12.8" fill="none" stroke="#000" stroke-width="2.5"/>
<circle cx="534.7" cy="85.1" r="12.8" fill="none" stroke="#000" stroke-width="2.5"/>
<circle cx="638.9" cy="86.2" r="12.8" fill="none" stroke="#000" stroke-width="2.5"/>
<circle cx="743" cy="89.5" r="12.8" fill="none" stroke="#000" stroke-width="2.5"/>
<circle cx="847" cy="90.5" r="12.8" fill="none" stroke="#000" stroke-width="2.5"/>
<circle cx="222.7" cy="99.7" r="12.8" fill="none" stroke="#000" stroke-width="2.5"/>
<circle cx="326.8" cy="102.5" r="12.8" fill="none" stroke="#000" stroke-width="2.5"/>
<circle cx="430.7" cy="106.5" r="12.8" fill="none" stroke="#000" stroke-width="2.5"/>
<circle cx="534.7" cy="113.2" r="12.8" fill="none" stroke="#000" stroke-width="2.5"/>
<circle cx="638.9" cy="115.3" r="12.8" fill="none" stroke="#000" stroke-width="2.5"/>
<circle cx="743" cy="118.6" r="12.8" fill="none" stroke="#000" stroke-width="2.5"/>
<circle cx="847" cy="122.6" r="12.8" fill="none" stroke="#000" stroke-width="2.5"/>
<circle cx="222.7" cy="94.7" r="12.8" fill="none" stroke="#000" stroke-width="2.5"/>
<circle cx="326.8" cy="108.4" r="12.8" fill="none" stroke="#000" stroke-width="2.5"/>
<circle cx="430.7" cy="130.1" r="12.8" fill="none" stroke="#000" stroke-width="2.5"/>
<circle cx="534.7" cy="158" r="12.8" fill="none" stroke="#000" stroke-width="2.5"/>
<circle cx="638.9" cy="193.3" r="12.8" fill="none" stroke="#000" stroke-width="2.5"/>
<circle cx="743" cy="234.7" r="12.8" fill="none" stroke="#000" stroke-width="2.5"/>
<circle cx="847" cy="278.3" r="12.8" fill="none" stroke="#000" stroke-width="2.5"/>
<circle cx="222.7" cy="109.1" r="12.8" fill="none" stroke="#000" stroke-width="2.5"/>
<circle cx="326.8" cy="128.3" r="12.8" fill="none" stroke="#000" stroke-width="2.5"/>
<circle cx="430.7" cy="157.9" r="12.8" fill="none" stroke="#000" stroke-width="2.5"/>
<circle cx="534.7" cy="198.8" r="12.8" fill="none" stroke="#000" stroke-width="2.5"/>
<circle cx="638.9" cy="251.5" r="12.8" fill="none" stroke="#000" stroke-width="2.5"/>
<path d="M730.25,313.1H755.75M743,300.35V325.85M733.9,304.0L752.1,322.20000000000005M733.9,322.20000000000005L752.1,304.0" stroke="#000" stroke-width="2.2" fill="none"/>
<path d="M834.25,385.9H859.75M847,373.15V398.65M837.9,376.79999999999995L856.1,395.0M837.9,395.0L856.1,376.79999999999995" stroke="#000" stroke-width="2.2" fill="none"/>
</g>
<clipPath id="bot"><rect x="143.07" y="612.20" width="792.86" height="516.50"/></clipPath>
<g>
<path d="M171.09,791.96 L174.75,792.06 L178.41,792.15 L182.07,792.24 L185.73,792.33 L189.39,792.43 L193.05,792.52 L196.71,792.61 L200.37,792.70 L204.03,792.79 L207.69,792.89 L211.35,792.98 L215.01,793.07 L218.67,793.16 L222.33,793.25 L225.99,793.34 L229.65,793.43 L233.31,793.52 L236.97,793.62 L240.63,793.71 L244.29,793.80 L247.95,793.89 L251.61,793.98 L255.27,794.07 L258.93,794.16 L262.59,794.25 L266.25,794.34 L269.91,794.44 L273.57,794.53 L277.23,794.62 L280.89,794.71 L284.55,794.80 L288.21,794.89 L291.87,794.98 L295.53,795.08 L299.19,795.17 L302.85,795.26 L306.51,795.35 L310.17,795.44 L313.83,795.54 L317.49,795.63 L321.15,795.72 L324.81,795.81 L328.47,795.90 L332.13,796.00 L335.79,796.09 L339.45,796.18 L343.11,796.28 L346.77,796.37 L350.43,796.46 L354.09,796.56 L357.75,796.65 L361.41,796.74 L365.07,796.84 L368.73,796.93 L372.39,797.03 L376.05,797.12 L379.71,797.21 L383.37,797.31 L387.03,797.40 L390.69,797.50 L394.35,797.59 L398.01,797.69 L401.68,797.78 L405.34,797.88 L409.00,797.97 L412.66,798.07 L416.32,798.17 L419.98,798.26 L423.64,798.36 L427.30,798.45 L430.96,798.55 L434.62,798.65 L438.28,798.74 L441.94,798.84 L445.60,798.94 L449.26,799.03 L452.92,799.13 L456.58,799.23 L460.24,799.33 L463.90,799.42 L467.56,799.52 L471.22,799.62 L474.88,799.72 L478.54,799.81 L482.20,799.91 L485.86,800.01 L489.52,800.11 L493.18,800.21 L496.84,800.30 L500.50,800.40 L504.16,800.50 L507.82,800.60 L511.48,800.70 L515.14,800.79 L518.80,800.89 L522.46,800.99 L526.12,801.09 L529.78,801.19 L533.44,801.28 L537.10,801.38 L540.76,801.48 L544.42,801.58 L548.08,801.67 L551.74,801.77 L555.40,801.87 L559.06,801.97 L562.72,802.06 L566.38,802.16 L570.04,802.26 L573.70,802.36 L577.36,802.45 L581.02,802.55 L584.68,802.65 L588.34,802.74 L592.00,802.84 L595.66,802.93 L599.32,803.03 L602.98,803.12 L606.64,803.22 L610.30,803.31 L613.96,803.41 L617.62,803.50 L621.28,803.60 L624.94,803.69 L628.60,803.78 L632.26,803.88 L635.92,803.97 L639.58,804.06 L643.24,804.15 L646.90,804.25 L650.57,804.34 L654.23,804.43 L657.89,804.52 L661.55,804.61 L665.21,804.70 L668.87,804.78 L672.53,804.87 L676.19,804.96 L679.85,805.05 L683.51,805.13 L687.17,805.22 L690.83,805.30 L694.49,805.39 L698.15,805.47 L701.81,805.56 L705.47,805.64 L709.13,805.72 L712.79,805.80 L716.45,805.88 L720.11,805.96 L723.77,806.04 L727.43,806.12 L731.09,806.19 L734.75,806.27 L738.41,806.35 L742.07,806.42 L745.73,806.49 L749.39,806.57 L753.05,806.64 L756.71,806.71 L760.37,806.78 L764.03,806.85 L767.69,806.92 L771.35,806.98 L775.01,807.05 L778.67,807.11 L782.33,807.18 L785.99,807.24 L789.65,807.30 L793.31,807.36 L796.97,807.42 L800.63,807.47 L804.29,807.53 L807.95,807.59 L811.61,807.64 L815.27,807.69 L818.93,807.74 L822.59,807.79 L826.25,807.84 L829.91,807.89 L833.57,807.93 L837.23,807.97 L840.89,808.02 L844.55,808.06 L848.21,808.09 L851.87,808.13 L855.53,808.17 L859.19,808.20 L862.85,808.23 L866.51,808.26 L870.17,808.29 L873.83,808.32 L877.49,808.34 L881.15,808.37 L884.81,808.39 L888.47,808.41 L892.13,808.42 L895.80,808.44 L899.46,808.45" fill="none" stroke="#9467bd" stroke-width="8.4" stroke-linejoin="round"/>
<path d="M171.09,767.95 L174.75,768.11 L178.41,768.28 L182.07,768.43 L185.73,768.59 L189.39,768.74 L193.05,768.89 L196.71,769.03 L200.37,769.18 L204.03,769.32 L207.69,769.45 L211.35,769.59 L215.01,769.72 L218.67,769.85 L222.33,769.98 L225.99,770.10 L229.65,770.22 L233.31,770.34 L236.97,770.46 L240.63,770.58 L244.29,770.69 L247.95,770.80 L251.61,770.91 L255.27,771.02 L258.93,771.13 L262.59,771.23 L266.25,771.33 L269.91,771.44 L273.57,771.54 L277.23,771.63 L280.89,771.73 L284.55,771.83 L288.21,771.92 L291.87,772.02 L295.53,772.11 L299.19,772.20 L302.85,772.29 L306.51,772.38 L310.17,772.47 L313.83,772.56 L317.49,772.64 L321.15,772.73 L324.81,772.81 L328.47,772.90 L332.13,772.98 L335.79,773.07 L339.45,773.15 L343.11,773.23 L346.77,773.31 L350.43,773.40 L354.09,773.48 L357.75,773.56 L361.41,773.64 L365.07,773.72 L368.73,773.80 L372.39,773.88 L376.05,773.96 L379.71,774.04 L383.37,774.12 L387.03,774.20 L390.69,774.28 L394.35,774.36 L398.01,774.44 L401.68,774.52 L405.34,774.60 L409.00,774.68 L412.66,774.76 L416.32,774.84 L419.98,774.93 L423.64,775.01 L427.30,775.09 L430.96,775.17 L434.62,775.26 L438.28,775.34 L441.94,775.42 L445.60,775.51 L449.26,775.59 L452.92,775.67 L456.58,775.76 L460.24,775.85 L463.90,775.93 L467.56,776.02 L471.22,776.11 L474.88,776.19 L478.54,776.28 L482.20,776.37 L485.86,776.46 L489.52,776.55 L493.18,776.64 L496.84,776.73 L500.50,776.83 L504.16,776.92 L507.82,777.01 L511.48,777.11 L515.14,777.20 L518.80,777.29 L522.46,777.39 L526.12,777.49 L529.78,777.58 L533.44,777.68 L537.10,777.78 L540.76,777.88 L544.42,777.98 L548.08,778.08 L551.74,778.18 L555.40,778.28 L559.06,778.38 L562.72,778.48 L566.38,778.58 L570.04,778.69 L573.70,778.79 L577.36,778.90 L581.02,779.00 L584.68,779.11 L588.34,779.21 L592.00,779.32 L595.66,779.42 L599.32,779.53 L602.98,779.64 L606.64,779.75 L610.30,779.86 L613.96,779.96 L617.62,780.07 L621.28,780.18 L624.94,780.29 L628.60,780.40 L632.26,780.51 L635.92,780.62 L639.58,780.73 L643.24,780.84 L646.90,780.95 L650.57,781.06 L654.23,781.17 L657.89,781.28 L661.55,781.39 L665.21,781.50 L668.87,781.61 L672.53,781.72 L676.19,781.83 L679.85,781.94 L683.51,782.05 L687.17,782.16 L690.83,782.27 L694.49,782.37 L698.15,782.48 L701.81,782.59 L705.47,782.70 L709.13,782.80 L712.79,782.91 L716.45,783.01 L720.11,783.12 L723.77,783.22 L727.43,783.32 L731.09,783.42 L734.75,783.52 L738.41,783.62 L742.07,783.72 L745.73,783.82 L749.39,783.92 L753.05,784.01 L756.71,784.10 L760.37,784.20 L764.03,784.29 L767.69,784.38 L771.35,784.47 L775.01,784.55 L778.67,784.64 L782.33,784.72 L785.99,784.80 L789.65,784.88 L793.31,784.96 L796.97,785.03 L800.63,785.11 L804.29,785.18 L807.95,785.25 L811.61,785.32 L815.27,785.38 L818.93,785.44 L822.59,785.50 L826.25,785.56 L829.91,785.61 L833.57,785.67 L837.23,785.72 L840.89,785.76 L844.55,785.81 L848.21,785.85 L851.87,785.88 L855.53,785.92 L859.19,785.95 L862.85,785.98 L866.51,786.00 L870.17,786.02 L873.83,786.04 L877.49,786.05 L881.15,786.06 L884.81,786.06 L888.47,786.07 L892.13,786.06 L895.80,786.06 L899.46,786.05" fill="none" stroke="#9467bd" stroke-width="4.6" stroke-dasharray="32.464 19.249"/>
<path d="M171.09,801.92 L174.75,802.12 L178.41,802.32 L182.07,802.52 L185.73,802.71 L189.39,802.89 L193.05,803.07 L196.71,803.25 L200.37,803.43 L204.03,803.60 L207.69,803.76 L211.35,803.93 L215.01,804.09 L218.67,804.24 L222.33,804.40 L225.99,804.55 L229.65,804.69 L233.31,804.84 L236.97,804.98 L240.63,805.12 L244.29,805.25 L247.95,805.39 L251.61,805.52 L255.27,805.64 L258.93,805.77 L262.59,805.89 L266.25,806.01 L269.91,806.13 L273.57,806.24 L277.23,806.36 L280.89,806.47 L284.55,806.58 L288.21,806.69 L291.87,806.79 L295.53,806.90 L299.19,807.00 L302.85,807.10 L306.51,807.20 L310.17,807.30 L313.83,807.39 L317.49,807.49 L321.15,807.58 L324.81,807.67 L328.47,807.76 L332.13,807.85 L335.79,807.94 L339.45,808.03 L343.11,808.12 L346.77,808.20 L350.43,808.29 L354.09,808.37 L357.75,808.46 L361.41,808.54 L365.07,808.62 L368.73,808.70 L372.39,808.78 L376.05,808.86 L379.71,808.94 L383.37,809.02 L387.03,809.10 L390.69,809.18 L394.35,809.26 L398.01,809.34 L401.68,809.41 L405.34,809.49 L409.00,809.57 L412.66,809.65 L416.32,809.72 L419.98,809.80 L423.64,809.88 L427.30,809.95 L430.96,810.03 L434.62,810.11 L438.28,810.18 L441.94,810.26 L445.60,810.34 L449.26,810.42 L452.92,810.50 L456.58,810.57 L460.24,810.65 L463.90,810.73 L467.56,810.81 L471.22,810.89 L474.88,810.97 L478.54,811.05 L482.20,811.13 L485.86,811.21 L489.52,811.29 L493.18,811.37 L496.84,811.45 L500.50,811.53 L504.16,811.62 L507.82,811.70 L511.48,811.78 L515.14,811.87 L518.80,811.95 L522.46,812.04 L526.12,812.12 L529.78,812.21 L533.44,812.30 L537.10,812.38 L540.76,812.47 L544.42,812.56 L548.08,812.65 L551.74,812.74 L555.40,812.83 L559.06,812.92 L562.72,813.01 L566.38,813.10 L570.04,813.19 L573.70,813.28 L577.36,813.38 L581.02,813.47 L584.68,813.56 L588.34,813.66 L592.00,813.75 L595.66,813.85 L599.32,813.94 L602.98,814.04 L606.64,814.13 L610.30,814.23 L613.96,814.33 L617.62,814.43 L621.28,814.52 L624.94,814.62 L628.60,814.72 L632.26,814.82 L635.92,814.92 L639.58,815.02 L643.24,815.11 L646.90,815.21 L650.57,815.31 L654.23,815.41 L657.89,815.51 L661.55,815.61 L665.21,815.71 L668.87,815.81 L672.53,815.91 L676.19,816.01 L679.85,816.11 L683.51,816.21 L687.17,816.31 L690.83,816.41 L694.49,816.51 L698.15,816.60 L701.81,816.70 L705.47,816.80 L709.13,816.90 L712.79,816.99 L716.45,817.09 L720.11,817.18 L723.77,817.28 L727.43,817.37 L731.09,817.47 L734.75,817.56 L738.41,817.65 L742.07,817.74 L745.73,817.83 L749.39,817.92 L753.05,818.01 L756.71,818.10 L760.37,818.19 L764.03,818.27 L767.69,818.35 L771.35,818.44 L775.01,818.52 L778.67,818.60 L782.33,818.68 L785.99,818.75 L789.65,818.83 L793.31,818.90 L796.97,818.97 L800.63,819.04 L804.29,819.11 L807.95,819.18 L811.61,819.24 L815.27,819.30 L818.93,819.36 L822.59,819.42 L826.25,819.47 L829.91,819.53 L833.57,819.58 L837.23,819.63 L840.89,819.67 L844.55,819.71 L848.21,819.75 L851.87,819.79 L855.53,819.82 L859.19,819.86 L862.85,819.88 L866.51,819.91 L870.17,819.93 L873.83,819.95 L877.49,819.96 L881.15,819.97 L884.81,819.98 L888.47,819.99 L892.13,819.99 L895.80,819.98 L899.46,819.98" fill="none" stroke="#9467bd" stroke-width="4.6" stroke-dasharray="32.464 19.249"/>
<path d="M171.09,678.95 L174.75,679.14 L178.41,679.33 L182.07,679.52 L185.73,679.71 L189.39,679.89 L193.05,680.08 L196.71,680.26 L200.37,680.44 L204.03,680.62 L207.69,680.80 L211.35,680.98 L215.01,681.15 L218.67,681.33 L222.33,681.50 L225.99,681.67 L229.65,681.84 L233.31,682.01 L236.97,682.18 L240.63,682.35 L244.29,682.51 L247.95,682.68 L251.61,682.84 L255.27,683.00 L258.93,683.17 L262.59,683.33 L266.25,683.48 L269.91,683.64 L273.57,683.80 L277.23,683.96 L280.89,684.11 L284.55,684.27 L288.21,684.42 L291.87,684.57 L295.53,684.72 L299.19,684.88 L302.85,685.03 L306.51,685.18 L310.17,685.32 L313.83,685.47 L317.49,685.62 L321.15,685.77 L324.81,685.91 L328.47,686.06 L332.13,686.20 L335.79,686.35 L339.45,686.49 L343.11,686.63 L346.77,686.77 L350.43,686.92 L354.09,687.06 L357.75,687.20 L361.41,687.34 L365.07,687.48 L368.73,687.62 L372.39,687.76 L376.05,687.89 L379.71,688.03 L383.37,688.17 L387.03,688.31 L390.69,688.44 L394.35,688.58 L398.01,688.72 L401.68,688.85 L405.34,688.99 L409.00,689.12 L412.66,689.25 L416.32,689.39 L419.98,689.52 L423.64,689.66 L427.30,689.79 L430.96,689.92 L434.62,690.05 L438.28,690.19 L441.94,690.32 L445.60,690.45 L449.26,690.58 L452.92,690.71 L456.58,690.84 L460.24,690.97 L463.90,691.10 L467.56,691.23 L471.22,691.36 L474.88,691.49 L478.54,691.62 L482.20,691.75 L485.86,691.88 L489.52,692.01 L493.18,692.14 L496.84,692.27 L500.50,692.39 L504.16,692.52 L507.82,692.65 L511.48,692.78 L515.14,692.90 L518.80,693.03 L522.46,693.16 L526.12,693.28 L529.78,693.41 L533.44,693.53 L537.10,693.66 L540.76,693.79 L544.42,693.91 L548.08,694.04 L551.74,694.16 L555.40,694.28 L559.06,694.41 L562.72,694.53 L566.38,694.66 L570.04,694.78 L573.70,694.90 L577.36,695.02 L581.02,695.15 L584.68,695.27 L588.34,695.39 L592.00,695.51 L595.66,695.63 L599.32,695.75 L602.98,695.87 L606.64,695.99 L610.30,696.11 L613.96,696.23 L617.62,696.35 L621.28,696.47 L624.94,696.59 L628.60,696.71 L632.26,696.82 L635.92,696.94 L639.58,697.06 L643.24,697.17 L646.90,697.29 L650.57,697.40 L654.23,697.51 L657.89,697.63 L661.55,697.74 L665.21,697.85 L668.87,697.97 L672.53,698.08 L676.19,698.19 L679.85,698.30 L683.51,698.41 L687.17,698.52 L690.83,698.62 L694.49,698.73 L698.15,698.84 L701.81,698.94 L705.47,699.05 L709.13,699.15 L712.79,699.25 L716.45,699.36 L720.11,699.46 L723.77,699.56 L727.43,699.66 L731.09,699.76 L734.75,699.86 L738.41,699.95 L742.07,700.05 L745.73,700.14 L749.39,700.24 L753.05,700.33 L756.71,700.42 L760.37,700.51 L764.03,700.60 L767.69,700.69 L771.35,700.78 L775.01,700.86 L778.67,700.95 L782.33,701.03 L785.99,701.11 L789.65,701.20 L793.31,701.28 L796.97,701.35 L800.63,701.43 L804.29,701.50 L807.95,701.58 L811.61,701.65 L815.27,701.72 L818.93,701.79 L822.59,701.86 L826.25,701.92 L829.91,701.99 L833.57,702.05 L837.23,702.11 L840.89,702.17 L844.55,702.23 L848.21,702.28 L851.87,702.34 L855.53,702.39 L859.19,702.44 L862.85,702.48 L866.51,702.53 L870.17,702.57 L873.83,702.61 L877.49,702.65 L881.15,702.69 L884.81,702.73 L888.47,702.76 L892.13,702.79 L895.80,702.82 L899.46,702.84" fill="none" stroke="#1f77b4" stroke-width="8.4" stroke-linejoin="round"/>
<path d="M171.09,662.01 L174.75,662.12 L178.41,662.23 L182.07,662.34 L185.73,662.46 L189.39,662.57 L193.05,662.69 L196.71,662.81 L200.37,662.92 L204.03,663.04 L207.69,663.16 L211.35,663.28 L215.01,663.40 L218.67,663.51 L222.33,663.64 L225.99,663.76 L229.65,663.88 L233.31,664.00 L236.97,664.12 L240.63,664.24 L244.29,664.37 L247.95,664.49 L251.61,664.61 L255.27,664.74 L258.93,664.86 L262.59,664.99 L266.25,665.11 L269.91,665.24 L273.57,665.36 L277.23,665.49 L280.89,665.61 L284.55,665.74 L288.21,665.87 L291.87,665.99 L295.53,666.12 L299.19,666.25 L302.85,666.38 L306.51,666.50 L310.17,666.63 L313.83,666.76 L317.49,666.89 L321.15,667.02 L324.81,667.14 L328.47,667.27 L332.13,667.40 L335.79,667.53 L339.45,667.66 L343.11,667.79 L346.77,667.91 L350.43,668.04 L354.09,668.17 L357.75,668.30 L361.41,668.43 L365.07,668.56 L368.73,668.68 L372.39,668.81 L376.05,668.94 L379.71,669.07 L383.37,669.20 L387.03,669.32 L390.69,669.45 L394.35,669.58 L398.01,669.70 L401.68,669.83 L405.34,669.96 L409.00,670.09 L412.66,670.21 L416.32,670.34 L419.98,670.46 L423.64,670.59 L427.30,670.72 L430.96,670.84 L434.62,670.97 L438.28,671.09 L441.94,671.21 L445.60,671.34 L449.26,671.46 L452.92,671.59 L456.58,671.71 L460.24,671.83 L463.90,671.95 L467.56,672.08 L471.22,672.20 L474.88,672.32 L478.54,672.44 L482.20,672.56 L485.86,672.68 L489.52,672.80 L493.18,672.92 L496.84,673.04 L500.50,673.16 L504.16,673.28 L507.82,673.40 L511.48,673.51 L515.14,673.63 L518.80,673.75 L522.46,673.86 L526.12,673.98 L529.78,674.09 L533.44,674.21 L537.10,674.32 L540.76,674.44 L544.42,674.55 L548.08,674.66 L551.74,674.77 L555.40,674.89 L559.06,675.00 L562.72,675.11 L566.38,675.22 L570.04,675.33 L573.70,675.44 L577.36,675.54 L581.02,675.65 L584.68,675.76 L588.34,675.87 L592.00,675.97 L595.66,676.08 L599.32,676.18 L602.98,676.29 L606.64,676.39 L610.30,676.49 L613.96,676.60 L617.62,676.70 L621.28,676.80 L624.94,676.90 L628.60,677.00 L632.26,677.10 L635.92,677.20 L639.58,677.30 L643.24,677.40 L646.90,677.50 L650.57,677.59 L654.23,677.69 L657.89,677.78 L661.55,677.88 L665.21,677.97 L668.87,678.07 L672.53,678.16 L676.19,678.25 L679.85,678.34 L683.51,678.44 L687.17,678.53 L690.83,678.62 L694.49,678.71 L698.15,678.79 L701.81,678.88 L705.47,678.97 L709.13,679.06 L712.79,679.14 L716.45,679.23 L720.11,679.31 L723.77,679.40 L727.43,679.48 L731.09,679.56 L734.75,679.65 L738.41,679.73 L742.07,679.81 L745.73,679.89 L749.39,679.97 L753.05,680.05 L756.71,680.13 L760.37,680.21 L764.03,680.28 L767.69,680.36 L771.35,680.44 L775.01,680.51 L778.67,680.59 L782.33,680.66 L785.99,680.73 L789.65,680.81 L793.31,680.88 L796.97,680.95 L800.63,681.02 L804.29,681.09 L807.95,681.17 L811.61,681.23 L815.27,681.30 L818.93,681.37 L822.59,681.44 L826.25,681.51 L829.91,681.58 L833.57,681.64 L837.23,681.71 L840.89,681.77 L844.55,681.84 L848.21,681.90 L851.87,681.97 L855.53,682.03 L859.19,682.09 L862.85,682.15 L866.51,682.21 L870.17,682.28 L873.83,682.34 L877.49,682.40 L881.15,682.46 L884.81,682.52 L888.47,682.57 L892.13,682.63 L895.80,682.69 L899.46,682.75" fill="none" stroke="#1f77b4" stroke-width="4.6" stroke-dasharray="32.428 19.227"/>
<path d="M171.09,687.96 L174.75,688.12 L178.41,688.28 L182.07,688.44 L185.73,688.60 L189.39,688.76 L193.05,688.92 L196.71,689.08 L200.37,689.24 L204.03,689.40 L207.69,689.55 L211.35,689.71 L215.01,689.87 L218.67,690.02 L222.33,690.18 L225.99,690.33 L229.65,690.49 L233.31,690.64 L236.97,690.79 L240.63,690.95 L244.29,691.10 L247.95,691.25 L251.61,691.40 L255.27,691.55 L258.93,691.70 L262.59,691.85 L266.25,692.00 L269.91,692.15 L273.57,692.30 L277.23,692.45 L280.89,692.60 L284.55,692.75 L288.21,692.89 L291.87,693.04 L295.53,693.19 L299.19,693.33 L302.85,693.48 L306.51,693.63 L310.17,693.77 L313.83,693.92 L317.49,694.06 L321.15,694.21 L324.81,694.35 L328.47,694.50 L332.13,694.64 L335.79,694.78 L339.45,694.93 L343.11,695.07 L346.77,695.21 L350.43,695.36 L354.09,695.50 L357.75,695.64 L361.41,695.78 L365.07,695.93 L368.73,696.07 L372.39,696.21 L376.05,696.35 L379.71,696.49 L383.37,696.63 L387.03,696.77 L390.69,696.91 L394.35,697.05 L398.01,697.19 L401.68,697.33 L405.34,697.47 L409.00,697.61 L412.66,697.75 L416.32,697.89 L419.98,698.03 L423.64,698.17 L427.30,698.31 L430.96,698.45 L434.62,698.59 L438.28,698.72 L441.94,698.86 L445.60,699.00 L449.26,699.14 L452.92,699.28 L456.58,699.41 L460.24,699.55 L463.90,699.69 L467.56,699.82 L471.22,699.96 L474.88,700.10 L478.54,700.23 L482.20,700.37 L485.86,700.51 L489.52,700.64 L493.18,700.78 L496.84,700.91 L500.50,701.05 L504.16,701.18 L507.82,701.32 L511.48,701.45 L515.14,701.59 L518.80,701.72 L522.46,701.86 L526.12,701.99 L529.78,702.12 L533.44,702.26 L537.10,702.39 L540.76,702.52 L544.42,702.66 L548.08,702.79 L551.74,702.92 L555.40,703.05 L559.06,703.18 L562.72,703.32 L566.38,703.45 L570.04,703.58 L573.70,703.71 L577.36,703.84 L581.02,703.97 L584.68,704.10 L588.34,704.23 L592.00,704.36 L595.66,704.49 L599.32,704.62 L602.98,704.74 L606.64,704.87 L610.30,705.00 L613.96,705.13 L617.62,705.25 L621.28,705.38 L624.94,705.51 L628.60,705.63 L632.26,705.76 L635.92,705.88 L639.58,706.01 L643.24,706.13 L646.90,706.25 L650.57,706.38 L654.23,706.50 L657.89,706.62 L661.55,706.74 L665.21,706.87 L668.87,706.99 L672.53,707.11 L676.19,707.23 L679.85,707.35 L683.51,707.47 L687.17,707.58 L690.83,707.70 L694.49,707.82 L698.15,707.94 L701.81,708.05 L705.47,708.17 L709.13,708.28 L712.79,708.40 L716.45,708.51 L720.11,708.62 L723.77,708.73 L727.43,708.84 L731.09,708.96 L734.75,709.07 L738.41,709.17 L742.07,709.28 L745.73,709.39 L749.39,709.50 L753.05,709.60 L756.71,709.71 L760.37,709.81 L764.03,709.92 L767.69,710.02 L771.35,710.12 L775.01,710.22 L778.67,710.32 L782.33,710.42 L785.99,710.52 L789.65,710.62 L793.31,710.72 L796.97,710.81 L800.63,710.91 L804.29,711.00 L807.95,711.09 L811.61,711.18 L815.27,711.27 L818.93,711.36 L822.59,711.45 L826.25,711.54 L829.91,711.62 L833.57,711.71 L837.23,711.79 L840.89,711.87 L844.55,711.96 L848.21,712.04 L851.87,712.11 L855.53,712.19 L859.19,712.27 L862.85,712.34 L866.51,712.42 L870.17,712.49 L873.83,712.56 L877.49,712.63 L881.15,712.70 L884.81,712.76 L888.47,712.83 L892.13,712.89 L895.80,712.95 L899.46,713.01" fill="none" stroke="#1f77b4" stroke-width="4.6" stroke-dasharray="32.396 19.208"/>
<path d="M171.09,804.27 L174.76,804.63 L178.43,805.01 L182.10,805.39 L185.77,805.80 L189.45,806.22 L193.12,806.65 L196.79,807.10 L200.46,807.57 L204.13,808.05 L207.81,808.54 L211.48,809.05 L215.15,809.58 L218.82,810.11 L222.50,810.67 L226.17,811.23 L229.84,811.81 L233.51,812.41 L237.18,813.01 L240.86,813.63 L244.53,814.27 L248.20,814.91 L251.87,815.57 L255.54,816.25 L259.22,816.93 L262.89,817.63 L266.56,818.35 L270.23,819.07 L273.90,819.81 L277.58,820.56 L281.25,821.32 L284.92,822.09 L288.59,822.88 L292.27,823.67 L295.94,824.48 L299.61,825.30 L303.28,826.13 L306.95,826.98 L310.63,827.83 L314.30,828.70 L317.97,829.58 L321.64,830.47 L325.31,831.37 L328.99,832.28 L332.66,833.20 L336.33,834.13 L340.00,835.07 L343.67,836.03 L347.35,836.99 L351.02,837.96 L354.69,838.95 L358.36,839.94 L362.03,840.95 L365.71,841.96 L369.38,842.99 L373.05,844.02 L376.72,845.06 L380.40,846.12 L384.07,847.18 L387.74,848.26 L391.41,849.34 L395.08,850.43 L398.76,851.53 L402.43,852.64 L406.10,853.76 L409.77,854.89 L413.44,856.03 L417.12,857.18 L420.79,858.34 L424.46,859.50 L428.13,860.68 L431.80,861.86 L435.48,863.05 L439.15,864.25 L442.82,865.46 L446.49,866.68 L450.17,867.91 L453.84,869.14 L457.51,870.38 L461.18,871.64 L464.85,872.90 L468.53,874.16 L472.20,875.44 L475.87,876.73 L479.54,878.02 L483.21,879.32 L486.89,880.63 L490.56,881.95 L494.23,883.28 L497.90,884.61 L501.57,885.95 L505.25,887.30 L508.92,888.66 L512.59,890.03 L516.26,891.40 L519.94,892.78 L523.61,894.17 L527.28,895.57 L530.95,896.97 L534.62,898.39 L538.30,899.81 L541.97,901.24 L545.64,902.67 L549.31,904.12 L552.98,905.57 L556.66,907.03 L560.33,908.49 L564.00,909.97 L567.67,911.45 L571.34,912.94 L575.02,914.44 L578.69,915.95 L582.36,917.46 L586.03,918.98 L589.71,920.51 L593.38,922.04 L597.05,923.59 L600.72,925.14 L604.39,926.70 L608.07,928.27 L611.74,929.84 L615.41,931.42 L619.08,933.01 L622.75,934.61 L626.43,936.22 L630.10,937.83 L633.77,939.45 L637.44,941.08 L641.11,942.72 L644.79,944.36 L648.46,946.01 L652.13,947.68 L655.80,949.34 L659.48,951.02 L663.15,952.70 L666.82,954.40 L670.49,956.10 L674.16,957.80 L677.84,959.52 L681.51,961.25 L685.18,962.98 L688.85,964.72 L692.52,966.47 L696.20,968.23 L699.87,969.99 L703.54,971.77 L707.21,973.55 L710.88,975.34 L714.56,977.14 L718.23,978.95 L721.90,980.76 L725.57,982.59 L729.25,984.42 L732.92,986.27 L736.59,988.12 L740.26,989.98 L743.93,991.85 L747.61,993.72 L751.28,995.61 L754.95,997.51 L758.62,999.41 L762.29,1001.33 L765.97,1003.25 L769.64,1005.19 L773.31,1007.13 L776.98,1009.08 L780.65,1011.04 L784.33,1013.01 L788.00,1014.99 L791.67,1016.99 L795.34,1018.99 L799.01,1021.00 L802.69,1023.02 L806.36,1025.05 L810.03,1027.09 L813.70,1029.14 L817.38,1031.20 L821.05,1033.27 L824.72,1035.35 L828.39,1037.45 L832.06,1039.55 L835.74,1041.67 L839.41,1043.79 L843.08,1045.93 L846.75,1048.07 L850.42,1050.23 L854.10,1052.40 L857.77,1054.58 L861.44,1056.77 L865.11,1058.98 L868.78,1061.19 L872.46,1063.42 L876.13,1065.66 L879.80,1067.91 L883.47,1070.17 L887.15,1072.45 L890.82,1074.73 L894.49,1077.03 L898.16,1079.35 L901.83,1081.67" fill="none" stroke="#d62728" stroke-width="8.4" stroke-linejoin="round"/>
<path d="M171.09,782.02 L174.76,782.61 L178.43,783.21 L182.10,783.80 L185.77,784.40 L189.45,785.00 L193.12,785.61 L196.79,786.21 L200.46,786.82 L204.13,787.42 L207.81,788.04 L211.48,788.65 L215.15,789.27 L218.82,789.88 L222.50,790.51 L226.17,791.13 L229.84,791.76 L233.51,792.39 L237.18,793.03 L240.86,793.67 L244.53,794.31 L248.20,794.96 L251.87,795.61 L255.54,796.26 L259.22,796.92 L262.89,797.59 L266.56,798.25 L270.23,798.93 L273.90,799.60 L277.58,800.29 L281.25,800.97 L284.92,801.67 L288.59,802.37 L292.27,803.07 L295.94,803.78 L299.61,804.49 L303.28,805.21 L306.95,805.94 L310.63,806.67 L314.30,807.41 L317.97,808.15 L321.64,808.90 L325.31,809.65 L328.99,810.42 L332.66,811.18 L336.33,811.96 L340.00,812.74 L343.67,813.53 L347.35,814.32 L351.02,815.12 L354.69,815.93 L358.36,816.75 L362.03,817.57 L365.71,818.40 L369.38,819.24 L373.05,820.08 L376.72,820.93 L380.40,821.79 L384.07,822.66 L387.74,823.53 L391.41,824.41 L395.08,825.30 L398.76,826.20 L402.43,827.10 L406.10,828.01 L409.77,828.94 L413.44,829.86 L417.12,830.80 L420.79,831.74 L424.46,832.70 L428.13,833.66 L431.80,834.63 L435.48,835.60 L439.15,836.59 L442.82,837.58 L446.49,838.58 L450.17,839.59 L453.84,840.61 L457.51,841.64 L461.18,842.68 L464.85,843.72 L468.53,844.77 L472.20,845.84 L475.87,846.91 L479.54,847.98 L483.21,849.07 L486.89,850.17 L490.56,851.27 L494.23,852.39 L497.90,853.51 L501.57,854.64 L505.25,855.78 L508.92,856.93 L512.59,858.08 L516.26,859.25 L519.94,860.43 L523.61,861.61 L527.28,862.80 L530.95,864.00 L534.62,865.21 L538.30,866.43 L541.97,867.66 L545.64,868.90 L549.31,870.14 L552.98,871.40 L556.66,872.66 L560.33,873.93 L564.00,875.21 L567.67,876.50 L571.34,877.80 L575.02,879.11 L578.69,880.42 L582.36,881.75 L586.03,883.08 L589.71,884.42 L593.38,885.77 L597.05,887.13 L600.72,888.50 L604.39,889.87 L608.07,891.26 L611.74,892.65 L615.41,894.05 L619.08,895.46 L622.75,896.88 L626.43,898.30 L630.10,899.74 L633.77,901.18 L637.44,902.63 L641.11,904.09 L644.79,905.56 L648.46,907.03 L652.13,908.51 L655.80,910.00 L659.48,911.50 L663.15,913.01 L666.82,914.52 L670.49,916.04 L674.16,917.57 L677.84,919.11 L681.51,920.65 L685.18,922.21 L688.85,923.77 L692.52,925.33 L696.20,926.91 L699.87,928.49 L703.54,930.07 L707.21,931.67 L710.88,933.27 L714.56,934.88 L718.23,936.49 L721.90,938.12 L725.57,939.75 L729.25,941.38 L732.92,943.02 L736.59,944.67 L740.26,946.32 L743.93,947.98 L747.61,949.65 L751.28,951.32 L754.95,953.00 L758.62,954.68 L762.29,956.37 L765.97,958.07 L769.64,959.77 L773.31,961.47 L776.98,963.19 L780.65,964.90 L784.33,966.62 L788.00,968.35 L791.67,970.08 L795.34,971.81 L799.01,973.55 L802.69,975.30 L806.36,977.05 L810.03,978.80 L813.70,980.56 L817.38,982.32 L821.05,984.08 L824.72,985.85 L828.39,987.62 L832.06,989.40 L835.74,991.18 L839.41,992.96 L843.08,994.75 L846.75,996.53 L850.42,998.32 L854.10,1000.12 L857.77,1001.91 L861.44,1003.71 L865.11,1005.51 L868.78,1007.31 L872.46,1009.12 L876.13,1010.92 L879.80,1012.73 L883.47,1014.54 L887.15,1016.35 L890.82,1018.16 L894.49,1019.97 L898.16,1021.78 L901.83,1023.60" fill="none" stroke="#d62728" stroke-width="4.6" stroke-dasharray="32.146 19.060"/>
<path d="M171.09,810.50 L174.64,811.25 L178.20,812.00 L181.76,812.77 L185.32,813.54 L188.88,814.32 L192.44,815.11 L195.99,815.91 L199.55,816.71 L203.11,817.52 L206.67,818.34 L210.23,819.17 L213.78,820.00 L217.34,820.85 L220.90,821.70 L224.46,822.55 L228.02,823.42 L231.58,824.29 L235.13,825.16 L238.69,826.05 L242.25,826.94 L245.81,827.84 L249.37,828.74 L252.93,829.65 L256.48,830.57 L260.04,831.49 L263.60,832.42 L267.16,833.36 L270.72,834.30 L274.27,835.25 L277.83,836.20 L281.39,837.17 L284.95,838.14 L288.51,839.13 L292.07,840.12 L295.62,841.13 L299.18,842.14 L302.74,843.16 L306.30,844.19 L309.86,845.23 L313.42,846.28 L316.97,847.34 L320.53,848.40 L324.09,849.47 L327.65,850.55 L331.21,851.64 L334.77,852.73 L338.32,853.84 L341.88,854.94 L345.44,856.06 L349.00,857.18 L352.56,858.31 L356.11,859.44 L359.67,860.58 L363.23,861.73 L366.79,862.88 L370.35,864.03 L373.91,865.19 L377.46,866.36 L381.02,867.53 L384.58,868.71 L388.14,869.89 L391.70,871.08 L395.26,872.28 L398.81,873.48 L402.37,874.69 L405.93,875.91 L409.49,877.13 L413.05,878.36 L416.60,879.60 L420.16,880.85 L423.72,882.10 L427.28,883.37 L430.84,884.64 L434.40,885.92 L437.95,887.20 L441.51,888.50 L445.07,889.81 L448.63,891.12 L452.19,892.44 L455.75,893.78 L459.30,895.12 L462.86,896.47 L466.42,897.83 L469.98,899.20 L473.54,900.58 L477.10,901.97 L480.65,903.37 L484.21,904.78 L487.77,906.20 L491.33,907.64 L494.89,909.09 L498.44,910.55 L502.00,912.03 L505.56,913.52 L509.12,915.03 L512.68,916.55 L516.24,918.08 L519.79,919.62 L523.35,921.17 L526.91,922.74 L530.47,924.32 L534.03,925.90 L537.59,927.50 L541.14,929.10 L544.70,930.72 L548.26,932.34 L551.82,933.97 L555.38,935.61 L558.94,937.26 L562.49,938.91 L566.05,940.57 L569.61,942.24 L573.17,943.91 L576.73,945.58 L580.28,947.26 L583.84,948.95 L587.40,950.64 L590.96,952.33 L594.52,954.03 L598.08,955.74 L601.63,957.46 L605.19,959.18 L608.75,960.92 L612.31,962.66 L615.87,964.42 L619.43,966.18 L622.98,967.95 L626.54,969.73 L630.10,971.51 L633.66,973.31 L637.22,975.11 L640.77,976.92 L644.33,978.74 L647.89,980.57 L651.45,982.40 L655.01,984.24 L658.57,986.09 L662.12,987.94 L665.68,989.80 L669.24,991.67 L672.80,993.54 L676.36,995.42 L679.92,997.30 L683.47,999.19 L687.03,1001.09 L690.59,1002.99 L694.15,1004.89 L697.71,1006.80 L701.27,1008.72 L704.82,1010.65 L708.38,1012.58 L711.94,1014.52 L715.50,1016.46 L719.06,1018.42 L722.61,1020.38 L726.17,1022.34 L729.73,1024.32 L733.29,1026.30 L736.85,1028.29 L740.41,1030.28 L743.96,1032.29 L747.52,1034.30 L751.08,1036.31 L754.64,1038.34 L758.20,1040.37 L761.76,1042.40 L765.31,1044.45 L768.87,1046.50 L772.43,1048.56 L775.99,1050.62 L779.55,1052.69 L783.10,1054.77 L786.66,1056.85 L790.22,1058.94 L793.78,1061.04 L797.34,1063.15 L800.90,1065.26 L804.45,1067.38 L808.01,1069.50 L808.01,1075.50 L810.42,1076.79 L812.82,1078.09 L815.23,1079.39 L817.64,1080.69 L820.04,1082.00 L822.45,1083.32 L824.85,1084.64 L827.26,1085.96 L829.66,1087.29 L832.07,1088.63 L834.47,1089.96 L836.88,1091.31 L839.29,1092.65 L841.69,1094.00 L844.10,1095.36 L846.50,1096.72 L848.91,1098.09 L851.31,1099.45 L853.72,1100.83 L856.13,1102.20 L858.53,1103.59 L860.94,1104.97 L863.34,1106.37 L865.75,1107.76 L868.15,1109.16 L870.56,1110.57 L872.97,1111.98 L875.37,1113.40 L877.78,1114.82 L880.18,1116.25 L882.59,1117.68 L884.99,1119.12 L887.40,1120.56 L889.81,1122.00 L892.21,1123.45 L894.62,1124.91 L897.02,1126.37 L899.43,1127.83 L901.83,1129.30" fill="none" stroke="#d62728" stroke-width="4.6" stroke-dasharray="32.165 19.071"/>
<path d="M171.09,685.58 L174.76,685.88 L178.43,686.20 L182.10,686.52 L185.77,686.86 L189.45,687.21 L193.12,687.57 L196.79,687.94 L200.46,688.33 L204.13,688.72 L207.81,689.13 L211.48,689.55 L215.15,689.99 L218.82,690.43 L222.50,690.89 L226.17,691.36 L229.84,691.84 L233.51,692.33 L237.18,692.84 L240.86,693.36 L244.53,693.89 L248.20,694.43 L251.87,694.99 L255.54,695.55 L259.22,696.13 L262.89,696.73 L266.56,697.33 L270.23,697.95 L273.90,698.58 L277.58,699.22 L281.25,699.88 L284.92,700.55 L288.59,701.23 L292.27,701.92 L295.94,702.62 L299.61,703.34 L303.28,704.07 L306.95,704.82 L310.63,705.57 L314.30,706.34 L317.97,707.12 L321.64,707.92 L325.31,708.73 L328.99,709.55 L332.66,710.38 L336.33,711.23 L340.00,712.08 L343.67,712.96 L347.35,713.84 L351.02,714.74 L354.69,715.65 L358.36,716.57 L362.03,717.51 L365.71,718.46 L369.38,719.42 L373.05,720.40 L376.72,721.39 L380.40,722.39 L384.07,723.40 L387.74,724.43 L391.41,725.47 L395.08,726.53 L398.76,727.59 L402.43,728.67 L406.10,729.77 L409.77,730.87 L413.44,731.99 L417.12,733.13 L420.79,734.27 L424.46,735.43 L428.13,736.61 L431.80,737.79 L435.48,738.99 L439.15,740.21 L442.82,741.43 L446.49,742.67 L450.17,743.92 L453.84,745.19 L457.51,746.47 L461.18,747.76 L464.85,749.07 L468.53,750.39 L472.20,751.72 L475.87,753.07 L479.54,754.43 L483.21,755.80 L486.89,757.19 L490.56,758.59 L494.23,760.00 L497.90,761.43 L501.57,762.87 L505.25,764.32 L508.92,765.79 L512.59,767.27 L516.26,768.76 L519.94,770.27 L523.61,771.79 L527.28,773.32 L530.95,774.87 L534.62,776.43 L538.30,778.01 L541.97,779.60 L545.64,781.20 L549.31,782.81 L552.98,784.44 L556.66,786.08 L560.33,787.74 L564.00,789.41 L567.67,791.09 L571.34,792.79 L575.02,794.50 L578.69,796.22 L582.36,797.96 L586.03,799.71 L589.71,801.47 L593.38,803.25 L597.05,805.04 L600.72,806.85 L604.39,808.66 L608.07,810.50 L611.74,812.34 L615.41,814.20 L619.08,816.07 L622.75,817.96 L626.43,819.86 L630.10,821.77 L633.77,823.69 L637.44,825.63 L641.11,827.59 L644.79,829.55 L648.46,831.53 L652.13,833.53 L655.80,835.53 L659.48,837.56 L663.15,839.59 L666.82,841.64 L670.49,843.70 L674.16,845.77 L677.84,847.86 L681.51,849.96 L685.18,852.08 L688.85,854.20 L692.52,856.35 L696.20,858.50 L699.87,860.67 L703.54,862.85 L707.21,865.05 L710.88,867.25 L714.56,869.48 L718.23,871.71 L721.90,873.96 L725.57,876.22 L729.25,878.50 L732.92,880.79 L736.59,883.09 L740.26,885.40 L743.93,887.73 L747.61,890.07 L751.28,892.43 L754.95,894.80 L758.62,897.18 L762.29,899.57 L765.97,901.98 L769.64,904.40 L773.31,906.84 L776.98,909.28 L780.65,911.74 L784.33,914.22 L788.00,916.71 L791.67,919.21 L795.34,921.72 L799.01,924.25 L802.69,926.78 L806.36,929.34 L810.03,931.90 L813.70,934.48 L817.38,937.07 L821.05,939.68 L824.72,942.29 L828.39,944.93 L832.06,947.57 L835.74,950.22 L839.41,952.89 L843.08,955.58 L846.75,958.27 L850.42,960.98 L854.10,963.70 L857.77,966.43 L861.44,969.18 L865.11,971.94 L868.78,974.71 L872.46,977.50 L876.13,980.29 L879.80,983.10 L883.47,985.93 L887.15,988.76 L890.82,991.61 L894.49,994.47 L898.16,997.34 L901.83,1000.23" fill="none" stroke="#ff7f0e" stroke-width="8.4" stroke-linejoin="round"/>
<path d="M171.09,673.25 L174.76,673.57 L178.43,673.89 L182.10,674.22 L185.77,674.56 L189.45,674.91 L193.12,675.26 L196.79,675.62 L200.46,675.99 L204.13,676.36 L207.81,676.74 L211.48,677.13 L215.15,677.53 L218.82,677.94 L222.50,678.35 L226.17,678.77 L229.84,679.20 L233.51,679.63 L237.18,680.08 L240.86,680.53 L244.53,680.99 L248.20,681.46 L251.87,681.94 L255.54,682.42 L259.22,682.92 L262.89,683.42 L266.56,683.93 L270.23,684.45 L273.90,684.98 L277.58,685.52 L281.25,686.06 L284.92,686.62 L288.59,687.18 L292.27,687.75 L295.94,688.34 L299.61,688.93 L303.28,689.53 L306.95,690.14 L310.63,690.75 L314.30,691.38 L317.97,692.02 L321.64,692.66 L325.31,693.32 L328.99,693.99 L332.66,694.66 L336.33,695.34 L340.00,696.04 L343.67,696.74 L347.35,697.45 L351.02,698.18 L354.69,698.91 L358.36,699.65 L362.03,700.40 L365.71,701.16 L369.38,701.93 L373.05,702.72 L376.72,703.51 L380.40,704.31 L384.07,705.12 L387.74,705.94 L391.41,706.77 L395.08,707.61 L398.76,708.46 L402.43,709.33 L406.10,710.20 L409.77,711.08 L413.44,711.97 L417.12,712.87 L420.79,713.78 L424.46,714.71 L428.13,715.64 L431.80,716.58 L435.48,717.53 L439.15,718.50 L442.82,719.47 L446.49,720.45 L450.17,721.45 L453.84,722.45 L457.51,723.47 L461.18,724.49 L464.85,725.53 L468.53,726.57 L472.20,727.63 L475.87,728.70 L479.54,729.77 L483.21,730.86 L486.89,731.96 L490.56,733.06 L494.23,734.18 L497.90,735.31 L501.57,736.45 L505.25,737.60 L508.92,738.76 L512.59,739.93 L516.26,741.11 L519.94,742.30 L523.61,743.50 L527.28,744.71 L530.95,745.93 L534.62,747.16 L538.30,748.40 L541.97,749.65 L545.64,750.92 L549.31,752.19 L552.98,753.47 L556.66,754.76 L560.33,756.07 L564.00,757.38 L567.67,758.70 L571.34,760.03 L575.02,761.38 L578.69,762.73 L582.36,764.09 L586.03,765.46 L589.71,766.85 L593.38,768.24 L597.05,769.64 L600.72,771.05 L604.39,772.48 L608.07,773.91 L611.74,775.35 L615.41,776.80 L619.08,778.26 L622.75,779.73 L626.43,781.21 L630.10,782.70 L633.77,784.20 L637.44,785.71 L641.11,787.23 L644.79,788.75 L648.46,790.29 L652.13,791.83 L655.80,793.39 L659.48,794.95 L663.15,796.53 L666.82,798.11 L670.49,799.70 L674.16,801.30 L677.84,802.91 L681.51,804.53 L685.18,806.16 L688.85,807.79 L692.52,809.44 L696.20,811.09 L699.87,812.75 L703.54,814.42 L707.21,816.10 L710.88,817.79 L714.56,819.48 L718.23,821.19 L721.90,822.90 L725.57,824.62 L729.25,826.35 L732.92,828.08 L736.59,829.83 L740.26,831.58 L743.93,833.34 L747.61,835.11 L751.28,836.88 L754.95,838.67 L758.62,840.46 L762.29,842.25 L765.97,844.06 L769.64,845.87 L773.31,847.69 L776.98,849.52 L780.65,851.35 L784.33,853.19 L788.00,855.04 L791.67,856.89 L795.34,858.76 L799.01,860.62 L802.69,862.50 L806.36,864.38 L810.03,866.27 L813.70,868.16 L817.38,870.06 L821.05,871.96 L824.72,873.88 L828.39,875.79 L832.06,877.72 L835.74,879.64 L839.41,881.58 L843.08,883.52 L846.75,885.46 L850.42,887.42 L854.10,889.37 L857.77,891.33 L861.44,893.30 L865.11,895.27 L868.78,897.24 L872.46,899.23 L876.13,901.21 L879.80,903.20 L883.47,905.19 L887.15,907.19 L890.82,909.19 L894.49,911.20 L898.16,913.21 L901.83,915.22" fill="none" stroke="#ff7f0e" stroke-width="4.6" stroke-dasharray="31.980 18.962"/>
<path d="M171.09,691.15 L174.76,691.68 L178.43,692.22 L182.10,692.78 L185.77,693.35 L189.45,693.94 L193.12,694.54 L196.79,695.15 L200.46,695.78 L204.13,696.43 L207.81,697.09 L211.48,697.76 L215.15,698.45 L218.82,699.15 L222.50,699.87 L226.17,700.60 L229.84,701.35 L233.51,702.11 L237.18,702.88 L240.86,703.67 L244.53,704.48 L248.20,705.30 L251.87,706.13 L255.54,706.98 L259.22,707.84 L262.89,708.71 L266.56,709.61 L270.23,710.51 L273.90,711.43 L277.58,712.36 L281.25,713.31 L284.92,714.27 L288.59,715.25 L292.27,716.24 L295.94,717.25 L299.61,718.27 L303.28,719.30 L306.95,720.35 L310.63,721.41 L314.30,722.49 L317.97,723.58 L321.64,724.68 L325.31,725.80 L328.99,726.93 L332.66,728.08 L336.33,729.24 L340.00,730.42 L343.67,731.61 L347.35,732.81 L351.02,734.03 L354.69,735.26 L358.36,736.51 L362.03,737.77 L365.71,739.05 L369.38,740.33 L373.05,741.64 L376.72,742.95 L380.40,744.29 L384.07,745.63 L387.74,746.99 L391.41,748.36 L395.08,749.75 L398.76,751.15 L402.43,752.56 L406.10,753.99 L409.77,755.43 L413.44,756.89 L417.12,758.36 L420.79,759.84 L424.46,761.34 L428.13,762.85 L431.80,764.38 L435.48,765.92 L439.15,767.47 L442.82,769.03 L446.49,770.61 L450.17,772.21 L453.84,773.81 L457.51,775.44 L461.18,777.07 L464.85,778.72 L468.53,780.38 L472.20,782.05 L475.87,783.74 L479.54,785.45 L483.21,787.16 L486.89,788.89 L490.56,790.63 L494.23,792.39 L497.90,794.16 L501.57,795.94 L505.25,797.74 L508.92,799.55 L512.59,801.37 L516.26,803.21 L519.94,805.06 L523.61,806.92 L527.28,808.79 L530.95,810.68 L534.62,812.59 L538.30,814.50 L541.97,816.43 L545.64,818.37 L549.31,820.33 L552.98,822.29 L556.66,824.28 L560.33,826.27 L564.00,828.28 L567.67,830.30 L571.34,832.33 L575.02,834.37 L578.69,836.43 L582.36,838.50 L586.03,840.59 L589.71,842.69 L593.38,844.80 L597.05,846.92 L600.72,849.05 L604.39,851.20 L608.07,853.36 L611.74,855.54 L615.41,857.72 L619.08,859.92 L622.75,862.13 L626.43,864.36 L630.10,866.59 L633.77,868.84 L637.44,871.10 L641.11,873.37 L644.79,875.66 L648.46,877.96 L652.13,880.27 L655.80,882.59 L659.48,884.93 L663.15,887.27 L666.82,889.63 L670.49,892.01 L674.16,894.39 L677.84,896.79 L681.51,899.19 L685.18,901.61 L688.85,904.05 L692.52,906.49 L696.20,908.95 L699.87,911.42 L703.54,913.90 L707.21,916.39 L710.88,918.89 L714.56,921.41 L718.23,923.93 L721.90,926.47 L725.57,929.02 L729.25,931.59 L732.92,934.16 L736.59,936.75 L740.26,939.34 L743.93,941.95 L747.61,944.57 L751.28,947.20 L754.95,949.85 L758.62,952.50 L762.29,955.17 L765.97,957.84 L769.64,960.53 L773.31,963.23 L776.98,965.94 L780.65,968.66 L784.33,971.40 L788.00,974.14 L791.67,976.90 L795.34,979.66 L799.01,982.44 L802.69,985.23 L806.36,988.03 L810.03,990.84 L813.70,993.66 L817.38,996.49 L821.05,999.33 L824.72,1002.19 L828.39,1005.05 L832.06,1007.92 L835.74,1010.81 L839.41,1013.71 L843.08,1016.61 L846.75,1019.53 L850.42,1022.46 L854.10,1025.39 L857.77,1028.34 L861.44,1031.30 L865.11,1034.27 L868.78,1037.25 L872.46,1040.24 L876.13,1043.23 L879.80,1046.24 L883.47,1049.26 L887.15,1052.29 L890.82,1055.33 L894.49,1058.38 L898.16,1061.44 L901.83,1064.51" fill="none" stroke="#ff7f0e" stroke-width="4.6" stroke-dasharray="32.188 19.085"/>
<circle cx="222.7" cy="795.1" r="12.8" fill="none" stroke="#000" stroke-width="2.5"/>
<circle cx="326.8" cy="794.3" r="12.8" fill="none" stroke="#000" stroke-width="2.5"/>
<circle cx="430.7" cy="797.5" r="12.8" fill="none" stroke="#000" stroke-width="2.5"/>
<circle cx="534.7" cy="799.5" r="12.8" fill="none" stroke="#000" stroke-width="2.5"/>
<circle cx="638.9" cy="800.4" r="12.8" fill="none" stroke="#000" stroke-width="2.5"/>
<circle cx="743" cy="803.8" r="12.8" fill="none" stroke="#000" stroke-width="2.5"/>
<circle cx="847" cy="807.3" r="12.8" fill="none" stroke="#000" stroke-width="2.5"/>
<circle cx="222.7" cy="681" r="12.8" fill="none" stroke="#000" stroke-width="2.5"/>
<circle cx="326.8" cy="683.7" r="12.8" fill="none" stroke="#000" stroke-width="2.5"/>
<circle cx="430.7" cy="687" r="12.8" fill="none" stroke="#000" stroke-width="2.5"/>
<circle cx="534.7" cy="693.75" r="12.8" fill="none" stroke="#000" stroke-width="2.5"/>
<circle cx="638.9" cy="695.6" r="12.8" fill="none" stroke="#000" stroke-width="2.5"/>
<circle cx="743" cy="698.8" r="12.8" fill="none" stroke="#000" stroke-width="2.5"/>
<circle cx="847" cy="702.2" r="12.8" fill="none" stroke="#000" stroke-width="2.5"/>
<circle cx="222.7" cy="812.7" r="12.8" fill="none" stroke="#000" stroke-width="2.5"/>
<circle cx="326.8" cy="830.9" r="12.8" fill="none" stroke="#000" stroke-width="2.5"/>
<circle cx="430.7" cy="859.25" r="12.8" fill="none" stroke="#000" stroke-width="2.5"/>
<circle cx="534.7" cy="895.5" r="12.8" fill="none" stroke="#000" stroke-width="2.5"/>
<circle cx="638.9" cy="939.7" r="12.8" fill="none" stroke="#000" stroke-width="2.5"/>
<circle cx="743" cy="992.5" r="12.8" fill="none" stroke="#000" stroke-width="2.5"/>
<circle cx="847" cy="1041.1" r="12.8" fill="none" stroke="#000" stroke-width="2.5"/>
<circle cx="222.7" cy="689.6" r="12.8" fill="none" stroke="#000" stroke-width="2.5"/>
<circle cx="326.8" cy="708.4" r="12.8" fill="none" stroke="#000" stroke-width="2.5"/>
<circle cx="430.7" cy="736.25" r="12.8" fill="none" stroke="#000" stroke-width="2.5"/>
<circle cx="534.7" cy="775" r="12.8" fill="none" stroke="#000" stroke-width="2.5"/>
<circle cx="638.9" cy="825.6" r="12.8" fill="none" stroke="#000" stroke-width="2.5"/>
<path d="M730.25,884.5H755.75M743,871.75V897.25M733.9,875.4L752.1,893.6M733.9,893.6L752.1,875.4" stroke="#000" stroke-width="2.2" fill="none"/>
<path d="M833.75,953.4H859.25M846.5,940.65V966.15M837.4,944.3L855.6,962.5M837.4,962.5L855.6,944.3" stroke="#000" stroke-width="2.2" fill="none"/>
</g>
<rect x="172.5" y="323.7" width="373.29999999999995" height="184.60000000000002" fill="#fff" stroke="#262626" stroke-width="2"/>
<line x1="185.8" y1="350.65" x2="316.4" y2="350.65" stroke="#9467bd" stroke-width="6.3"/>
<text x="326.2" y="359.30" class="lg">DLC</text>
<text x="411.8" y="359.30" class="lg">H</text>
<text x="438.0" y="364.10" class="sub">2</text>
<text x="463.8" y="359.30" class="lg">Ref.</text>
<line x1="185.8" y1="394.20" x2="316.4" y2="394.20" stroke="#1f77b4" stroke-width="6.3"/>
<text x="327.0" y="402.85" class="lg">SLC</text>
<text x="405.2" y="402.85" class="lg">H</text>
<text x="431.4" y="407.65" class="sub">2</text>
<text x="456.9" y="402.85" class="lg">Ref.</text>
<line x1="185.8" y1="437.75" x2="316.4" y2="437.75" stroke="#d62728" stroke-width="6.3"/>
<text x="326.2" y="446.40" class="lg">DLC</text>
<text x="411.8" y="446.40" class="lg">H</text>
<text x="438.0" y="451.20" class="sub">2</text>
<text x="479.5" y="446.40" class="lg">CO</text>
<path d="M453.8,435.5H477.8M465.8,422.5V448.5" stroke="#000" stroke-width="1.8" fill="none"/>
<line x1="185.8" y1="481.30" x2="316.4" y2="481.30" stroke="#ff7f0e" stroke-width="6.3"/>
<text x="327.0" y="489.95" class="lg">SLC</text>
<text x="404.5" y="489.95" class="lg">H</text>
<text x="430.7" y="494.75" class="sub">2</text>
<text x="471.9" y="489.95" class="lg">CO</text>
<path d="M446.5,479.05H470.5M458.5,466.05V492.05" stroke="#000" stroke-width="1.8" fill="none"/>
<text x="538.9" y="1229" class="al" text-anchor="middle" textLength="240" lengthAdjust="spacingAndGlyphs">Time (min)</text>
<text transform="translate(36.5,277) rotate(-90)" class="al" text-anchor="middle" textLength="332" lengthAdjust="spacingAndGlyphs">Cell voltage (V)</text>
<text transform="translate(66.7,870.9) rotate(-90)" class="al" text-anchor="middle" textLength="395" lengthAdjust="spacingAndGlyphs">Power per cell (W)</text>
<text x="962" y="36.5" class="al">a</text>
<text x="986.5" y="37.5" class="par">)</text>
<text x="960.3" y="630" class="al">b</text>
<text x="987.3" y="631.3" class="par" style="font-size:53px">)</text>
</svg></body></html>
